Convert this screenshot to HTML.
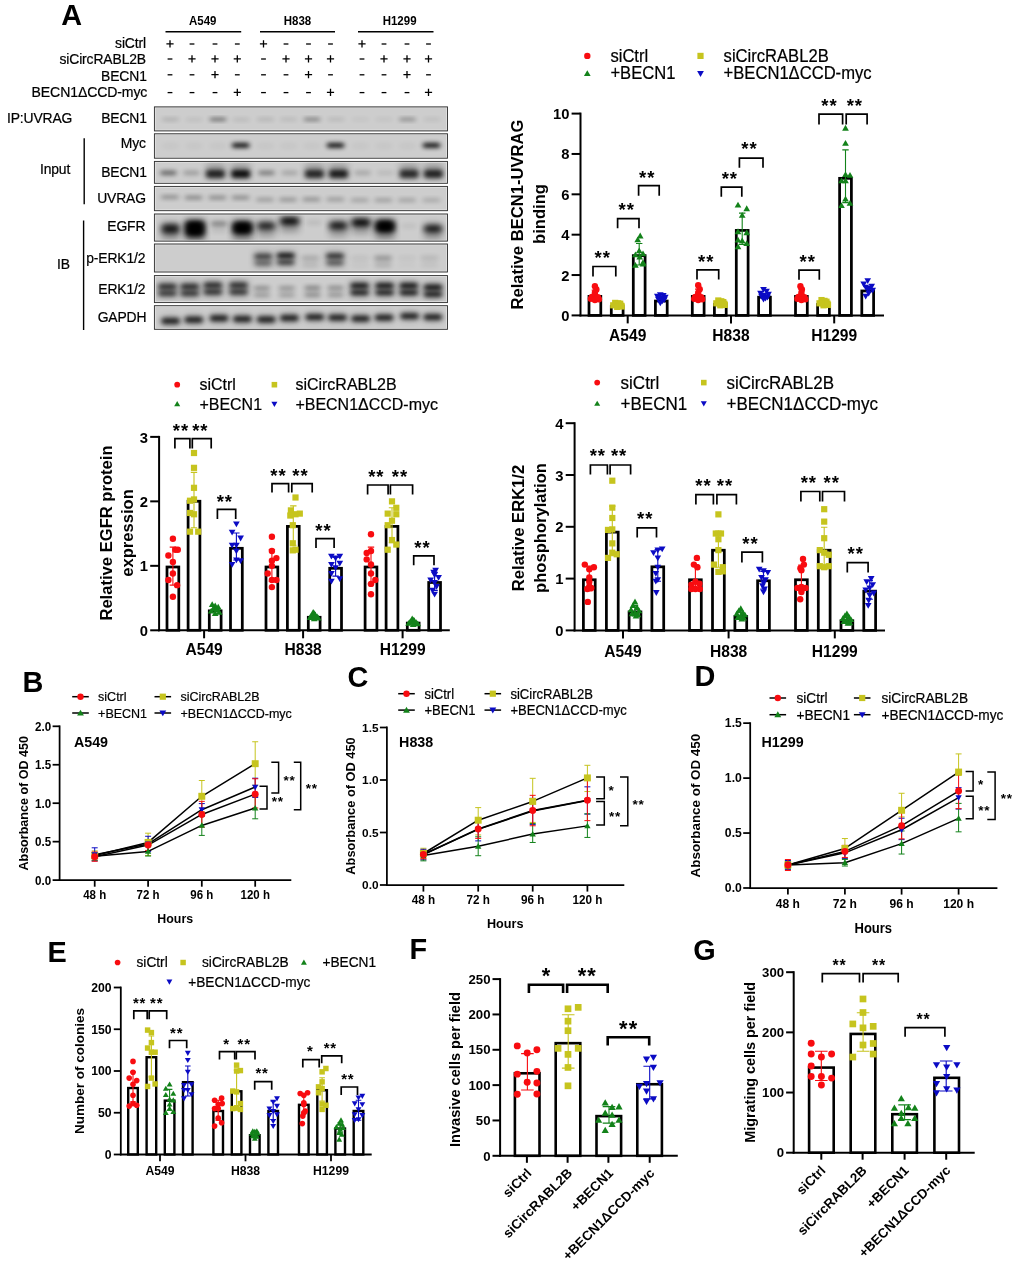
<!DOCTYPE html>
<html><head><meta charset="utf-8"><title>Figure</title>
<style>
html,body{margin:0;padding:0;background:#fff;}
svg{display:block;font-family:"Liberation Sans",sans-serif;will-change:transform;}
</style></head><body>
<svg width="1020" height="1266" viewBox="0 0 1020 1266">
<defs>
<filter id="b1" x="-30%" y="-80%" width="160%" height="260%"><feGaussianBlur stdDeviation="2.6 1.9"/></filter>
<filter id="b2" x="-30%" y="-80%" width="160%" height="260%"><feGaussianBlur stdDeviation="3.0 2.5"/></filter>
<filter id="b3" x="-30%" y="-80%" width="160%" height="260%"><feGaussianBlur stdDeviation="3.6 3.8"/></filter>
<clipPath id="cb0"><rect x="154.1" y="106.6" width="293.7" height="24.6"/></clipPath>
<clipPath id="cb1"><rect x="154.1" y="133.5" width="293.7" height="25"/></clipPath>
<clipPath id="cb2"><rect x="154.1" y="161.1" width="293.7" height="22.5"/></clipPath>
<clipPath id="cb3"><rect x="154.1" y="186.1" width="293.7" height="24.9"/></clipPath>
<clipPath id="cb4"><rect x="154.1" y="213.7" width="293.7" height="27.7"/></clipPath>
<clipPath id="cb5"><rect x="154.1" y="243.7" width="293.7" height="28.6"/></clipPath>
<clipPath id="cb6"><rect x="154.1" y="275.3" width="293.7" height="27.6"/></clipPath>
<clipPath id="cb7"><rect x="154.1" y="305.4" width="293.7" height="24.2"/></clipPath>
</defs>
<rect width="1020" height="1266" fill="#fff"/>
<text transform="translate(61.3 25) scale(0.95 1)" font-size="30.4" font-weight="bold">A</text>
<text transform="translate(202.7 25.2) scale(1 1.06)" font-size="11.5" text-anchor="middle" font-weight="bold">A549</text>
<line x1="165.5" y1="31.8" x2="241.2" y2="31.8" stroke="#000" stroke-width="1.45"/>
<text transform="translate(297.5 25.2) scale(1 1.06)" font-size="11.5" text-anchor="middle" font-weight="bold">H838</text>
<line x1="260" y1="31.8" x2="335" y2="31.8" stroke="#000" stroke-width="1.45"/>
<text transform="translate(399.6 25.2) scale(1 1.06)" font-size="11.5" text-anchor="middle" font-weight="bold">H1299</text>
<line x1="358" y1="31.8" x2="433.5" y2="31.8" stroke="#000" stroke-width="1.45"/>
<text transform="translate(146 47.6) scale(1 1.06)" font-size="13.9" text-anchor="end" stroke="#000" stroke-width="0.2" letter-spacing="-0.12">siCtrl</text>
<text transform="translate(146 63.8) scale(1 1.06)" font-size="13.9" text-anchor="end" stroke="#000" stroke-width="0.2" letter-spacing="-0.12">siCircRABL2B</text>
<text transform="translate(146.8 81) scale(1 1.06)" font-size="13.9" text-anchor="end" stroke="#000" stroke-width="0.2" letter-spacing="-0.12">BECN1</text>
<text transform="translate(147.2 96.6) scale(1 1.06)" font-size="13.9" text-anchor="end" stroke="#000" stroke-width="0.2" letter-spacing="-0.12" textLength="115.6" lengthAdjust="spacingAndGlyphs">BECN1ΔCCD-myc</text>
<path d="M166.4 43.8H173.6M170 40.2V47.4" fill="none" stroke="#000" stroke-width="1.3" stroke-linejoin="miter"/>
<line x1="189.6" y1="44" x2="194.4" y2="44" stroke="#000" stroke-width="1.3"/>
<line x1="212.6" y1="44" x2="217.4" y2="44" stroke="#000" stroke-width="1.3"/>
<line x1="234.9" y1="44" x2="239.7" y2="44" stroke="#000" stroke-width="1.3"/>
<path d="M259.9 43.8H267.1M263.5 40.2V47.4" fill="none" stroke="#000" stroke-width="1.3" stroke-linejoin="miter"/>
<line x1="283.6" y1="44" x2="288.4" y2="44" stroke="#000" stroke-width="1.3"/>
<line x1="306.1" y1="44" x2="310.9" y2="44" stroke="#000" stroke-width="1.3"/>
<line x1="328.1" y1="44" x2="332.9" y2="44" stroke="#000" stroke-width="1.3"/>
<path d="M358.4 43.8H365.6M362 40.2V47.4" fill="none" stroke="#000" stroke-width="1.3" stroke-linejoin="miter"/>
<line x1="381.6" y1="44" x2="386.4" y2="44" stroke="#000" stroke-width="1.3"/>
<line x1="404.6" y1="44" x2="409.4" y2="44" stroke="#000" stroke-width="1.3"/>
<line x1="426.1" y1="44" x2="430.9" y2="44" stroke="#000" stroke-width="1.3"/>
<line x1="167.6" y1="59" x2="172.4" y2="59" stroke="#000" stroke-width="1.3"/>
<path d="M188.4 58.8H195.6M192 55.2V62.4" fill="none" stroke="#000" stroke-width="1.3" stroke-linejoin="miter"/>
<path d="M211.4 58.8H218.6M215 55.2V62.4" fill="none" stroke="#000" stroke-width="1.3" stroke-linejoin="miter"/>
<path d="M233.7 58.8H240.9M237.3 55.2V62.4" fill="none" stroke="#000" stroke-width="1.3" stroke-linejoin="miter"/>
<line x1="261.1" y1="59" x2="265.9" y2="59" stroke="#000" stroke-width="1.3"/>
<path d="M282.4 58.8H289.6M286 55.2V62.4" fill="none" stroke="#000" stroke-width="1.3" stroke-linejoin="miter"/>
<path d="M304.9 58.8H312.1M308.5 55.2V62.4" fill="none" stroke="#000" stroke-width="1.3" stroke-linejoin="miter"/>
<path d="M326.9 58.8H334.1M330.5 55.2V62.4" fill="none" stroke="#000" stroke-width="1.3" stroke-linejoin="miter"/>
<line x1="359.6" y1="59" x2="364.4" y2="59" stroke="#000" stroke-width="1.3"/>
<path d="M380.4 58.8H387.6M384 55.2V62.4" fill="none" stroke="#000" stroke-width="1.3" stroke-linejoin="miter"/>
<path d="M403.4 58.8H410.6M407 55.2V62.4" fill="none" stroke="#000" stroke-width="1.3" stroke-linejoin="miter"/>
<path d="M424.9 58.8H432.1M428.5 55.2V62.4" fill="none" stroke="#000" stroke-width="1.3" stroke-linejoin="miter"/>
<line x1="167.6" y1="74.8" x2="172.4" y2="74.8" stroke="#000" stroke-width="1.3"/>
<line x1="189.6" y1="74.8" x2="194.4" y2="74.8" stroke="#000" stroke-width="1.3"/>
<path d="M211.4 74.6H218.6M215 71V78.2" fill="none" stroke="#000" stroke-width="1.3" stroke-linejoin="miter"/>
<line x1="234.9" y1="74.8" x2="239.7" y2="74.8" stroke="#000" stroke-width="1.3"/>
<line x1="261.1" y1="74.8" x2="265.9" y2="74.8" stroke="#000" stroke-width="1.3"/>
<line x1="283.6" y1="74.8" x2="288.4" y2="74.8" stroke="#000" stroke-width="1.3"/>
<path d="M304.9 74.6H312.1M308.5 71V78.2" fill="none" stroke="#000" stroke-width="1.3" stroke-linejoin="miter"/>
<line x1="328.1" y1="74.8" x2="332.9" y2="74.8" stroke="#000" stroke-width="1.3"/>
<line x1="359.6" y1="74.8" x2="364.4" y2="74.8" stroke="#000" stroke-width="1.3"/>
<line x1="381.6" y1="74.8" x2="386.4" y2="74.8" stroke="#000" stroke-width="1.3"/>
<path d="M403.4 74.6H410.6M407 71V78.2" fill="none" stroke="#000" stroke-width="1.3" stroke-linejoin="miter"/>
<line x1="426.1" y1="74.8" x2="430.9" y2="74.8" stroke="#000" stroke-width="1.3"/>
<line x1="167.6" y1="92.6" x2="172.4" y2="92.6" stroke="#000" stroke-width="1.3"/>
<line x1="189.6" y1="92.6" x2="194.4" y2="92.6" stroke="#000" stroke-width="1.3"/>
<line x1="212.6" y1="92.6" x2="217.4" y2="92.6" stroke="#000" stroke-width="1.3"/>
<path d="M233.7 92.4H240.9M237.3 88.8V96" fill="none" stroke="#000" stroke-width="1.3" stroke-linejoin="miter"/>
<line x1="261.1" y1="92.6" x2="265.9" y2="92.6" stroke="#000" stroke-width="1.3"/>
<line x1="283.6" y1="92.6" x2="288.4" y2="92.6" stroke="#000" stroke-width="1.3"/>
<line x1="306.1" y1="92.6" x2="310.9" y2="92.6" stroke="#000" stroke-width="1.3"/>
<path d="M326.9 92.4H334.1M330.5 88.8V96" fill="none" stroke="#000" stroke-width="1.3" stroke-linejoin="miter"/>
<line x1="359.6" y1="92.6" x2="364.4" y2="92.6" stroke="#000" stroke-width="1.3"/>
<line x1="381.6" y1="92.6" x2="386.4" y2="92.6" stroke="#000" stroke-width="1.3"/>
<line x1="404.6" y1="92.6" x2="409.4" y2="92.6" stroke="#000" stroke-width="1.3"/>
<path d="M424.9 92.4H432.1M428.5 88.8V96" fill="none" stroke="#000" stroke-width="1.3" stroke-linejoin="miter"/>
<text transform="translate(7 123.2) scale(1 1.06)" font-size="13.9" stroke="#000" stroke-width="0.2" letter-spacing="-0.15">IP:UVRAG</text>
<text transform="translate(146.8 123.2) scale(1 1.06)" font-size="13.9" text-anchor="end" stroke="#000" stroke-width="0.2" letter-spacing="-0.15">BECN1</text>
<text transform="translate(145.8 148.2) scale(1 1.06)" font-size="13.9" text-anchor="end" stroke="#000" stroke-width="0.2" letter-spacing="-0.15">Myc</text>
<text transform="translate(146.8 176.8) scale(1 1.06)" font-size="13.9" text-anchor="end" stroke="#000" stroke-width="0.2" letter-spacing="-0.15">BECN1</text>
<text transform="translate(145.8 203) scale(1 1.06)" font-size="13.9" text-anchor="end" stroke="#000" stroke-width="0.2" letter-spacing="-0.15">UVRAG</text>
<text transform="translate(145.3 230.6) scale(1 1.06)" font-size="13.9" text-anchor="end" stroke="#000" stroke-width="0.2" letter-spacing="-0.15">EGFR</text>
<text transform="translate(145.3 263.2) scale(1 1.06)" font-size="13.9" text-anchor="end" stroke="#000" stroke-width="0.2" letter-spacing="-0.15">p-ERK1/2</text>
<text transform="translate(145.3 293.8) scale(1 1.06)" font-size="13.9" text-anchor="end" stroke="#000" stroke-width="0.2" letter-spacing="-0.15">ERK1/2</text>
<text transform="translate(146.3 322) scale(1 1.06)" font-size="13.9" text-anchor="end" stroke="#000" stroke-width="0.2" letter-spacing="-0.15">GAPDH</text>
<text transform="translate(40 174.3) scale(1 1.06)" font-size="13.9" stroke="#000" stroke-width="0.2" letter-spacing="-0.15">Input</text>
<text transform="translate(57 269.3) scale(1 1.06)" font-size="13.9" stroke="#000" stroke-width="0.2" letter-spacing="-0.15">IB</text>
<line x1="84.2" y1="138.2" x2="84.2" y2="204.3" stroke="#000" stroke-width="1.4"/>
<line x1="83.6" y1="220.5" x2="83.6" y2="330" stroke="#000" stroke-width="1.4"/>
<rect x="154.1" y="106.6" width="293.7" height="24.6" fill="#cdcdcd"/>
<g clip-path="url(#cb0)">
<rect x="162.25" y="117.65" width="16.5" height="3.3" rx="1.65" fill="#000" opacity="0.16" filter="url(#b1)"/>
<rect x="185.95" y="117.95" width="16.5" height="3.3" rx="1.65" fill="#000" opacity="0.08" filter="url(#b1)"/>
<rect x="209.75" y="117.65" width="16.5" height="3.3" rx="1.65" fill="#000" opacity="0.5" filter="url(#b1)"/>
<rect x="232.95" y="117.95" width="16.5" height="3.3" rx="1.65" fill="#000" opacity="0.1" filter="url(#b1)"/>
<rect x="257.35" y="117.65" width="16.5" height="3.3" rx="1.65" fill="#000" opacity="0.13" filter="url(#b1)"/>
<rect x="280.35" y="117.65" width="16.5" height="3.3" rx="1.65" fill="#000" opacity="0.1" filter="url(#b1)"/>
<rect x="303.75" y="117.65" width="16.5" height="3.3" rx="1.65" fill="#000" opacity="0.41" filter="url(#b1)"/>
<rect x="327.75" y="117.65" width="16.5" height="3.3" rx="1.65" fill="#000" opacity="0.11" filter="url(#b1)"/>
<rect x="352.05" y="117.65" width="16.5" height="3.3" rx="1.65" fill="#000" opacity="0.05" filter="url(#b1)"/>
<rect x="375.75" y="117.65" width="16.5" height="3.3" rx="1.65" fill="#000" opacity="0.06" filter="url(#b1)"/>
<rect x="399.25" y="117.65" width="16.5" height="3.3" rx="1.65" fill="#000" opacity="0.34" filter="url(#b1)"/>
<rect x="423.75" y="117.65" width="16.5" height="3.3" rx="1.65" fill="#000" opacity="0.08" filter="url(#b1)"/>
</g>
<rect x="155.2" y="107.7" width="291.5" height="22.4" fill="none" stroke="#e6e6e6" stroke-width="0.8"/>
<rect x="154.4" y="106.9" width="293.1" height="24" fill="none" stroke="#2e2e2e" stroke-width="0.9"/>
<rect x="154.1" y="133.5" width="293.7" height="25" fill="#cdcdcd"/>
<g clip-path="url(#cb1)">
<rect x="231.95" y="142.7" width="17.5" height="5.4" rx="2.5" fill="#000" opacity="0.86" filter="url(#b1)"/>
<rect x="326.75" y="142.7" width="17.5" height="5.4" rx="2.5" fill="#000" opacity="0.86" filter="url(#b1)"/>
<rect x="422.75" y="142.7" width="17.5" height="5.4" rx="2.5" fill="#000" opacity="0.86" filter="url(#b1)"/>
<rect x="162.5" y="143.5" width="16" height="5" rx="2.5" fill="#000" opacity="0.04" filter="url(#b2)"/>
<rect x="186.2" y="143.5" width="16" height="5" rx="2.5" fill="#000" opacity="0.04" filter="url(#b2)"/>
<rect x="210" y="143.5" width="16" height="5" rx="2.5" fill="#000" opacity="0.04" filter="url(#b2)"/>
<rect x="257.6" y="143.5" width="16" height="5" rx="2.5" fill="#000" opacity="0.04" filter="url(#b2)"/>
<rect x="280.6" y="143.5" width="16" height="5" rx="2.5" fill="#000" opacity="0.04" filter="url(#b2)"/>
<rect x="304" y="143.5" width="16" height="5" rx="2.5" fill="#000" opacity="0.04" filter="url(#b2)"/>
<rect x="352.3" y="143.5" width="16" height="5" rx="2.5" fill="#000" opacity="0.04" filter="url(#b2)"/>
<rect x="376" y="143.5" width="16" height="5" rx="2.5" fill="#000" opacity="0.04" filter="url(#b2)"/>
<rect x="399.5" y="143.5" width="16" height="5" rx="2.5" fill="#000" opacity="0.04" filter="url(#b2)"/>
</g>
<rect x="155.2" y="134.6" width="291.5" height="22.8" fill="none" stroke="#e6e6e6" stroke-width="0.8"/>
<rect x="154.4" y="133.8" width="293.1" height="24.4" fill="none" stroke="#2e2e2e" stroke-width="0.9"/>
<rect x="154.1" y="161.1" width="293.7" height="22.5" fill="#cdcdcd"/>
<g clip-path="url(#cb2)">
<rect x="160.15" y="170.4" width="16.5" height="4.8" rx="2.4" fill="#000" opacity="0.49" filter="url(#b1)"/>
<rect x="183.15" y="170.4" width="16.5" height="4.8" rx="2.4" fill="#000" opacity="0.23" filter="url(#b1)"/>
<rect x="206.1" y="169.7" width="18.6" height="8.2" rx="2.5" fill="#000" opacity="0.78" filter="url(#b1)"/>
<rect x="205.9" y="163" width="19" height="16" rx="2.5" fill="#000" opacity="0.22" filter="url(#b3)"/>
<rect x="231.4" y="169.7" width="18.6" height="8.2" rx="2.5" fill="#000" opacity="0.9" filter="url(#b1)"/>
<rect x="231.2" y="163" width="19" height="16" rx="2.5" fill="#000" opacity="0.22" filter="url(#b3)"/>
<rect x="258.25" y="170.4" width="16.5" height="4.8" rx="2.4" fill="#000" opacity="0.38" filter="url(#b1)"/>
<rect x="281.45" y="170.4" width="16.5" height="4.8" rx="2.4" fill="#000" opacity="0.19" filter="url(#b1)"/>
<rect x="305.1" y="169.7" width="18.6" height="8.2" rx="2.5" fill="#000" opacity="0.76" filter="url(#b1)"/>
<rect x="304.9" y="163" width="19" height="16" rx="2.5" fill="#000" opacity="0.22" filter="url(#b3)"/>
<rect x="329.2" y="169.7" width="18.6" height="8.2" rx="2.5" fill="#000" opacity="0.82" filter="url(#b1)"/>
<rect x="329" y="163" width="19" height="16" rx="2.5" fill="#000" opacity="0.22" filter="url(#b3)"/>
<rect x="354.25" y="170.4" width="16.5" height="4.8" rx="2.4" fill="#000" opacity="0.18" filter="url(#b1)"/>
<rect x="377.05" y="170.4" width="16.5" height="4.8" rx="2.4" fill="#000" opacity="0.09" filter="url(#b1)"/>
<rect x="399.8" y="169.7" width="18.6" height="8.2" rx="2.5" fill="#000" opacity="0.74" filter="url(#b1)"/>
<rect x="399.6" y="163" width="19" height="16" rx="2.5" fill="#000" opacity="0.22" filter="url(#b3)"/>
<rect x="424.1" y="169.7" width="18.6" height="8.2" rx="2.5" fill="#000" opacity="0.78" filter="url(#b1)"/>
<rect x="423.9" y="163" width="19" height="16" rx="2.5" fill="#000" opacity="0.22" filter="url(#b3)"/>
</g>
<rect x="155.2" y="162.2" width="291.5" height="20.3" fill="none" stroke="#e6e6e6" stroke-width="0.8"/>
<rect x="154.4" y="161.4" width="293.1" height="21.9" fill="none" stroke="#2e2e2e" stroke-width="0.9"/>
<rect x="154.1" y="186.1" width="293.7" height="24.9" fill="#cdcdcd"/>
<g clip-path="url(#cb3)">
<rect x="161.15" y="195.3" width="17.5" height="3.8" rx="1.9" fill="#000" opacity="0.32" filter="url(#b1)"/>
<rect x="184.85" y="195.7" width="17.5" height="3.8" rx="1.9" fill="#000" opacity="0.36" filter="url(#b1)"/>
<rect x="208.65" y="195.7" width="17.5" height="3.8" rx="1.9" fill="#000" opacity="0.34" filter="url(#b1)"/>
<rect x="231.85" y="195.7" width="17.5" height="3.8" rx="1.9" fill="#000" opacity="0.34" filter="url(#b1)"/>
<rect x="256.25" y="197.7" width="17.5" height="3.8" rx="1.9" fill="#000" opacity="0.26" filter="url(#b1)"/>
<rect x="279.25" y="197.7" width="17.5" height="3.8" rx="1.9" fill="#000" opacity="0.29" filter="url(#b1)"/>
<rect x="302.65" y="197.5" width="17.5" height="3.8" rx="1.9" fill="#000" opacity="0.31" filter="url(#b1)"/>
<rect x="326.65" y="197.5" width="17.5" height="3.8" rx="1.9" fill="#000" opacity="0.26" filter="url(#b1)"/>
<rect x="350.95" y="198.3" width="17.5" height="3.8" rx="1.9" fill="#000" opacity="0.22" filter="url(#b1)"/>
<rect x="374.65" y="198.3" width="17.5" height="3.8" rx="1.9" fill="#000" opacity="0.24" filter="url(#b1)"/>
<rect x="398.15" y="198.3" width="17.5" height="3.8" rx="1.9" fill="#000" opacity="0.22" filter="url(#b1)"/>
<rect x="422.65" y="198.3" width="17.5" height="3.8" rx="1.9" fill="#000" opacity="0.19" filter="url(#b1)"/>
</g>
<rect x="155.2" y="187.2" width="291.5" height="22.7" fill="none" stroke="#e6e6e6" stroke-width="0.8"/>
<rect x="154.4" y="186.4" width="293.1" height="24.3" fill="none" stroke="#2e2e2e" stroke-width="0.9"/>
<rect x="154.1" y="213.7" width="293.7" height="27.7" fill="#cdcdcd"/>
<g clip-path="url(#cb4)">
<rect x="161.6" y="222.3" width="18" height="18" rx="2.5" fill="#000" opacity="0.3" filter="url(#b3)"/>
<rect x="162.1" y="224.2" width="17" height="9.2" rx="2.5" fill="#000" opacity="0.81" filter="url(#b2)"/>
<rect x="185.15" y="219.1" width="19.5" height="24" rx="2.5" fill="#000" opacity="0.42" filter="url(#b3)"/>
<rect x="185.65" y="221" width="18.5" height="15.2" rx="2.5" fill="#000" opacity="1" filter="url(#b2)"/>
<rect x="187.15" y="223.6" width="15.5" height="10" rx="2.5" fill="#000" opacity="0.8" filter="url(#b2)"/>
<rect x="211" y="220.9" width="16" height="5.6" rx="2.5" fill="#000" opacity="0.33" filter="url(#b1)"/>
<rect x="211" y="228.2" width="16" height="4" rx="2" fill="#000" opacity="0.1" filter="url(#b2)"/>
<rect x="232.65" y="219.8" width="19.5" height="21" rx="2.5" fill="#000" opacity="0.42" filter="url(#b3)"/>
<rect x="233.15" y="221.7" width="18.5" height="12.2" rx="2.5" fill="#000" opacity="1" filter="url(#b2)"/>
<rect x="234.65" y="224.3" width="15.5" height="7" rx="2.5" fill="#000" opacity="0.8" filter="url(#b2)"/>
<rect x="257.2" y="220.3" width="18" height="16" rx="2.5" fill="#000" opacity="0.3" filter="url(#b3)"/>
<rect x="257.7" y="222.2" width="17" height="7.2" rx="2.5" fill="#000" opacity="0.73" filter="url(#b2)"/>
<rect x="280.2" y="215.4" width="19" height="16.6" rx="2.5" fill="#000" opacity="0.3" filter="url(#b3)"/>
<rect x="280.7" y="217.3" width="18" height="7.8" rx="2.5" fill="#000" opacity="0.88" filter="url(#b2)"/>
<rect x="306.5" y="220" width="15" height="5.2" rx="2.5" fill="#000" opacity="0.08" filter="url(#b1)"/>
<rect x="329.2" y="219.9" width="18" height="16.4" rx="2.5" fill="#000" opacity="0.3" filter="url(#b3)"/>
<rect x="329.7" y="221.8" width="17" height="7.6" rx="2.5" fill="#000" opacity="0.79" filter="url(#b2)"/>
<rect x="351.5" y="216.8" width="19" height="16.6" rx="2.5" fill="#000" opacity="0.3" filter="url(#b3)"/>
<rect x="352" y="218.7" width="18" height="7.8" rx="2.5" fill="#000" opacity="0.9" filter="url(#b2)"/>
<rect x="375.4" y="218.5" width="19.2" height="20.6" rx="2.5" fill="#000" opacity="0.42" filter="url(#b3)"/>
<rect x="375.9" y="220.4" width="18.2" height="11.8" rx="2.5" fill="#000" opacity="1" filter="url(#b2)"/>
<rect x="377.4" y="223" width="15.2" height="6.6" rx="2.5" fill="#000" opacity="0.8" filter="url(#b2)"/>
<rect x="401.3" y="223.4" width="15" height="5.2" rx="2.5" fill="#000" opacity="0.06" filter="url(#b1)"/>
<rect x="424" y="223.1" width="18" height="16.4" rx="2.5" fill="#000" opacity="0.3" filter="url(#b3)"/>
<rect x="424.5" y="225" width="17" height="7.6" rx="2.5" fill="#000" opacity="0.79" filter="url(#b2)"/>
</g>
<rect x="155.2" y="214.8" width="291.5" height="25.5" fill="none" stroke="#e6e6e6" stroke-width="0.8"/>
<rect x="154.4" y="214" width="293.1" height="27.1" fill="none" stroke="#2e2e2e" stroke-width="0.9"/>
<rect x="154.1" y="243.7" width="293.7" height="28.6" fill="#cdcdcd"/>
<g clip-path="url(#cb5)">
<rect x="254.45" y="253.7" width="17.5" height="5.2" rx="2.5" fill="#000" opacity="0.62" filter="url(#b1)"/>
<rect x="254.7" y="260.7" width="17" height="4.8" rx="2.4" fill="#000" opacity="0.43" filter="url(#b1)"/>
<rect x="253.7" y="251.3" width="19" height="16" rx="2.5" fill="#000" opacity="0.2" filter="url(#b3)"/>
<rect x="276.95" y="253" width="17.5" height="5.2" rx="2.5" fill="#000" opacity="0.89" filter="url(#b1)"/>
<rect x="277.2" y="260" width="17" height="4.8" rx="2.4" fill="#000" opacity="0.66" filter="url(#b1)"/>
<rect x="276.2" y="250.6" width="19" height="16" rx="2.5" fill="#000" opacity="0.2" filter="url(#b3)"/>
<rect x="301.55" y="255.6" width="17.5" height="5.2" rx="2.5" fill="#000" opacity="0.17" filter="url(#b1)"/>
<rect x="301.8" y="262.6" width="17" height="4.8" rx="2.4" fill="#000" opacity="0.11" filter="url(#b1)"/>
<rect x="326.25" y="253.4" width="17.5" height="5.2" rx="2.5" fill="#000" opacity="0.74" filter="url(#b1)"/>
<rect x="326.5" y="260.4" width="17" height="4.8" rx="2.4" fill="#000" opacity="0.5" filter="url(#b1)"/>
<rect x="325.5" y="251" width="19" height="16" rx="2.5" fill="#000" opacity="0.2" filter="url(#b3)"/>
<rect x="351.25" y="255.6" width="17.5" height="5.2" rx="2.5" fill="#000" opacity="0.06" filter="url(#b1)"/>
<rect x="351.5" y="262.6" width="17" height="4.8" rx="2.4" fill="#000" opacity="0.04" filter="url(#b1)"/>
<rect x="374.25" y="255.6" width="17.5" height="5.2" rx="2.5" fill="#000" opacity="0.26" filter="url(#b1)"/>
<rect x="374.5" y="262.6" width="17" height="4.8" rx="2.4" fill="#000" opacity="0.14" filter="url(#b1)"/>
<rect x="398.25" y="255.6" width="17.5" height="5.2" rx="2.5" fill="#000" opacity="0.04" filter="url(#b1)"/>
<rect x="398.5" y="262.6" width="17" height="4.8" rx="2.4" fill="#000" opacity="0.02" filter="url(#b1)"/>
<rect x="420.75" y="255.4" width="17.5" height="5.2" rx="2.5" fill="#000" opacity="0.1" filter="url(#b1)"/>
<rect x="421" y="262.4" width="17" height="4.8" rx="2.4" fill="#000" opacity="0.06" filter="url(#b1)"/>
</g>
<rect x="155.2" y="244.8" width="291.5" height="26.4" fill="none" stroke="#e6e6e6" stroke-width="0.8"/>
<rect x="154.4" y="244" width="293.1" height="28" fill="none" stroke="#2e2e2e" stroke-width="0.9"/>
<rect x="154.1" y="275.3" width="293.7" height="27.6" fill="#cdcdcd"/>
<g clip-path="url(#cb6)">
<rect x="158.4" y="283.8" width="18" height="5.6" rx="2.5" fill="#000" opacity="0.69" filter="url(#b1)"/>
<rect x="158.4" y="290.7" width="18" height="5.4" rx="2.5" fill="#000" opacity="0.64" filter="url(#b1)"/>
<rect x="157.65" y="281.9" width="19.5" height="16" rx="2.5" fill="#000" opacity="0.25" filter="url(#b3)"/>
<rect x="180.8" y="283.8" width="18" height="5.6" rx="2.5" fill="#000" opacity="0.71" filter="url(#b1)"/>
<rect x="180.8" y="290.7" width="18" height="5.4" rx="2.5" fill="#000" opacity="0.66" filter="url(#b1)"/>
<rect x="180.05" y="281.9" width="19.5" height="16" rx="2.5" fill="#000" opacity="0.25" filter="url(#b3)"/>
<rect x="203.9" y="282.4" width="18" height="5.6" rx="2.5" fill="#000" opacity="0.73" filter="url(#b1)"/>
<rect x="203.9" y="289.3" width="18" height="5.4" rx="2.5" fill="#000" opacity="0.68" filter="url(#b1)"/>
<rect x="203.15" y="280.5" width="19.5" height="16" rx="2.5" fill="#000" opacity="0.25" filter="url(#b3)"/>
<rect x="229.5" y="282.4" width="18" height="5.6" rx="2.5" fill="#000" opacity="0.71" filter="url(#b1)"/>
<rect x="229.5" y="289.3" width="18" height="5.4" rx="2.5" fill="#000" opacity="0.66" filter="url(#b1)"/>
<rect x="228.75" y="280.5" width="19.5" height="16" rx="2.5" fill="#000" opacity="0.25" filter="url(#b3)"/>
<rect x="253.8" y="286" width="16" height="4.4" rx="2.2" fill="#000" opacity="0.31" filter="url(#b1)"/>
<rect x="253.8" y="292.9" width="16" height="4.2" rx="2.1" fill="#000" opacity="0.28" filter="url(#b1)"/>
<rect x="278.8" y="286" width="16" height="4.4" rx="2.2" fill="#000" opacity="0.28" filter="url(#b1)"/>
<rect x="278.8" y="292.9" width="16" height="4.2" rx="2.1" fill="#000" opacity="0.25" filter="url(#b1)"/>
<rect x="304.5" y="285.8" width="16" height="4.4" rx="2.2" fill="#000" opacity="0.36" filter="url(#b1)"/>
<rect x="304.5" y="292.7" width="16" height="4.2" rx="2.1" fill="#000" opacity="0.33" filter="url(#b1)"/>
<rect x="327.6" y="285.8" width="16" height="4.4" rx="2.2" fill="#000" opacity="0.31" filter="url(#b1)"/>
<rect x="327.6" y="292.7" width="16" height="4.2" rx="2.1" fill="#000" opacity="0.28" filter="url(#b1)"/>
<rect x="350.6" y="283" width="18" height="5.6" rx="2.5" fill="#000" opacity="0.84" filter="url(#b1)"/>
<rect x="350.6" y="289.9" width="18" height="5.4" rx="2.5" fill="#000" opacity="0.79" filter="url(#b1)"/>
<rect x="349.85" y="281.1" width="19.5" height="16" rx="2.5" fill="#000" opacity="0.25" filter="url(#b3)"/>
<rect x="375.6" y="283" width="18" height="5.6" rx="2.5" fill="#000" opacity="0.84" filter="url(#b1)"/>
<rect x="375.6" y="289.9" width="18" height="5.4" rx="2.5" fill="#000" opacity="0.79" filter="url(#b1)"/>
<rect x="374.85" y="281.1" width="19.5" height="16" rx="2.5" fill="#000" opacity="0.25" filter="url(#b3)"/>
<rect x="399.8" y="283" width="18" height="5.6" rx="2.5" fill="#000" opacity="0.86" filter="url(#b1)"/>
<rect x="399.8" y="289.9" width="18" height="5.4" rx="2.5" fill="#000" opacity="0.81" filter="url(#b1)"/>
<rect x="399.05" y="281.1" width="19.5" height="16" rx="2.5" fill="#000" opacity="0.25" filter="url(#b3)"/>
<rect x="424" y="284.6" width="18" height="5.6" rx="2.5" fill="#000" opacity="0.84" filter="url(#b1)"/>
<rect x="424" y="291.5" width="18" height="5.4" rx="2.5" fill="#000" opacity="0.79" filter="url(#b1)"/>
<rect x="423.25" y="282.7" width="19.5" height="16" rx="2.5" fill="#000" opacity="0.25" filter="url(#b3)"/>
</g>
<rect x="155.2" y="276.4" width="291.5" height="25.4" fill="none" stroke="#e6e6e6" stroke-width="0.8"/>
<rect x="154.4" y="275.6" width="293.1" height="27" fill="none" stroke="#2e2e2e" stroke-width="0.9"/>
<rect x="154.1" y="305.4" width="293.7" height="24.2" fill="#cdcdcd"/>
<g clip-path="url(#cb7)">
<rect x="161.6" y="317.8" width="18" height="6.4" rx="2.5" fill="#000" opacity="0.79" filter="url(#b1)"/>
<rect x="161.1" y="315.5" width="19" height="11" rx="2.5" fill="#000" opacity="0.16" filter="url(#b3)"/>
<rect x="184.8" y="316.6" width="18" height="6.4" rx="2.5" fill="#000" opacity="0.79" filter="url(#b1)"/>
<rect x="184.3" y="314.3" width="19" height="11" rx="2.5" fill="#000" opacity="0.16" filter="url(#b3)"/>
<rect x="210" y="315.1" width="18" height="6.4" rx="2.5" fill="#000" opacity="0.79" filter="url(#b1)"/>
<rect x="209.5" y="312.8" width="19" height="11" rx="2.5" fill="#000" opacity="0.16" filter="url(#b3)"/>
<rect x="233.4" y="315.8" width="18" height="6.4" rx="2.5" fill="#000" opacity="0.79" filter="url(#b1)"/>
<rect x="232.9" y="313.5" width="19" height="11" rx="2.5" fill="#000" opacity="0.16" filter="url(#b3)"/>
<rect x="257.2" y="316.3" width="18" height="6.4" rx="2.5" fill="#000" opacity="0.79" filter="url(#b1)"/>
<rect x="256.7" y="314" width="19" height="11" rx="2.5" fill="#000" opacity="0.16" filter="url(#b3)"/>
<rect x="280.4" y="314.8" width="18" height="6.4" rx="2.5" fill="#000" opacity="0.79" filter="url(#b1)"/>
<rect x="279.9" y="312.5" width="19" height="11" rx="2.5" fill="#000" opacity="0.16" filter="url(#b3)"/>
<rect x="305.7" y="313.9" width="18" height="6.4" rx="2.5" fill="#000" opacity="0.79" filter="url(#b1)"/>
<rect x="305.2" y="311.6" width="19" height="11" rx="2.5" fill="#000" opacity="0.16" filter="url(#b3)"/>
<rect x="328.5" y="314.4" width="18" height="6.4" rx="2.5" fill="#000" opacity="0.79" filter="url(#b1)"/>
<rect x="328" y="312.1" width="19" height="11" rx="2.5" fill="#000" opacity="0.16" filter="url(#b3)"/>
<rect x="351.6" y="315.4" width="18" height="6.4" rx="2.5" fill="#000" opacity="0.79" filter="url(#b1)"/>
<rect x="351.1" y="313.1" width="19" height="11" rx="2.5" fill="#000" opacity="0.16" filter="url(#b3)"/>
<rect x="375.1" y="314.4" width="18" height="6.4" rx="2.5" fill="#000" opacity="0.79" filter="url(#b1)"/>
<rect x="374.6" y="312.1" width="19" height="11" rx="2.5" fill="#000" opacity="0.16" filter="url(#b3)"/>
<rect x="400.6" y="312.9" width="18" height="6.4" rx="2.5" fill="#000" opacity="0.79" filter="url(#b1)"/>
<rect x="400.1" y="310.6" width="19" height="11" rx="2.5" fill="#000" opacity="0.16" filter="url(#b3)"/>
<rect x="423.8" y="313.9" width="18" height="6.4" rx="2.5" fill="#000" opacity="0.79" filter="url(#b1)"/>
<rect x="423.3" y="311.6" width="19" height="11" rx="2.5" fill="#000" opacity="0.16" filter="url(#b3)"/>
</g>
<rect x="155.2" y="306.5" width="291.5" height="22" fill="none" stroke="#e6e6e6" stroke-width="0.8"/>
<rect x="154.4" y="305.7" width="293.1" height="23.6" fill="none" stroke="#2e2e2e" stroke-width="0.9"/>
<rect x="589" y="296.39" width="11.8" height="19.01" fill="#fff" stroke="#000" stroke-width="2.75"/>
<rect x="611.3" y="306.49" width="11.8" height="8.91" fill="#fff" stroke="#000" stroke-width="2.75"/>
<rect x="633.3" y="255.63" width="11.8" height="59.77" fill="#fff" stroke="#000" stroke-width="2.75"/>
<rect x="655.4" y="301.04" width="11.8" height="14.36" fill="#fff" stroke="#000" stroke-width="2.75"/>
<rect x="692.3" y="296.39" width="11.8" height="19.01" fill="#fff" stroke="#000" stroke-width="2.75"/>
<rect x="714.4" y="304.47" width="11.8" height="10.93" fill="#fff" stroke="#000" stroke-width="2.75"/>
<rect x="736.3" y="230.41" width="11.8" height="84.99" fill="#fff" stroke="#000" stroke-width="2.75"/>
<rect x="758.6" y="297.2" width="11.8" height="18.2" fill="#fff" stroke="#000" stroke-width="2.75"/>
<rect x="795.5" y="296.39" width="11.8" height="19.01" fill="#fff" stroke="#000" stroke-width="2.75"/>
<rect x="817.6" y="304.47" width="11.8" height="10.93" fill="#fff" stroke="#000" stroke-width="2.75"/>
<rect x="839.6" y="178.34" width="11.8" height="137.06" fill="#fff" stroke="#000" stroke-width="2.75"/>
<rect x="861.8" y="290.95" width="11.8" height="24.45" fill="#fff" stroke="#000" stroke-width="2.75"/>
<line x1="580.5" y1="112.6" x2="580.5" y2="316.4" stroke="#000" stroke-width="2"/>
<line x1="579.5" y1="315.4" x2="884" y2="315.4" stroke="#000" stroke-width="2"/>
<line x1="571.6" y1="315.4" x2="580.5" y2="315.4" stroke="#000" stroke-width="2"/>
<text transform="translate(569.4 320.92) scale(1 1.05)" font-size="14.8" text-anchor="end" font-weight="bold">0</text>
<line x1="571.6" y1="275.04" x2="580.5" y2="275.04" stroke="#000" stroke-width="2"/>
<text transform="translate(569.4 280.56) scale(1 1.05)" font-size="14.8" text-anchor="end" font-weight="bold">2</text>
<line x1="571.6" y1="234.68" x2="580.5" y2="234.68" stroke="#000" stroke-width="2"/>
<text transform="translate(569.4 240.2) scale(1 1.05)" font-size="14.8" text-anchor="end" font-weight="bold">4</text>
<line x1="571.6" y1="194.32" x2="580.5" y2="194.32" stroke="#000" stroke-width="2"/>
<text transform="translate(569.4 199.84) scale(1 1.05)" font-size="14.8" text-anchor="end" font-weight="bold">6</text>
<line x1="571.6" y1="153.96" x2="580.5" y2="153.96" stroke="#000" stroke-width="2"/>
<text transform="translate(569.4 159.48) scale(1 1.05)" font-size="14.8" text-anchor="end" font-weight="bold">8</text>
<line x1="571.6" y1="113.6" x2="580.5" y2="113.6" stroke="#000" stroke-width="2"/>
<text transform="translate(569.4 119.12) scale(1 1.05)" font-size="14.8" text-anchor="end" font-weight="bold">10</text>
<line x1="627.7" y1="315.4" x2="627.7" y2="323.4" stroke="#000" stroke-width="2"/>
<text transform="translate(627.7 341.2) scale(1 1.06)" font-size="15.6" text-anchor="middle" font-weight="bold">A549</text>
<line x1="731" y1="315.4" x2="731" y2="323.4" stroke="#000" stroke-width="2"/>
<text transform="translate(731 341.2) scale(1 1.06)" font-size="15.6" text-anchor="middle" font-weight="bold">H838</text>
<line x1="834.2" y1="315.4" x2="834.2" y2="323.4" stroke="#000" stroke-width="2"/>
<text transform="translate(834.2 341.2) scale(1 1.06)" font-size="15.6" text-anchor="middle" font-weight="bold">H1299</text>
<text transform="translate(523.2 214.6) rotate(-90)" font-size="16.6" text-anchor="middle" font-weight="bold">Relative BECN1-UVRAG</text>
<text transform="translate(544.6 214) rotate(-90)" font-size="16.6" text-anchor="middle" font-weight="bold">binding</text>
<path d="M591.7 290.17H598.1M594.9 290.17V299.66M591.7 299.66H598.1" fill="none" stroke="#f80c10" stroke-width="1.1" stroke-linejoin="miter"/>
<circle cx="594.9" cy="286.14" r="3.2" fill="#f80c10"/>
<circle cx="596.4" cy="289.57" r="3.2" fill="#f80c10"/>
<circle cx="594.9" cy="292.8" r="3.2" fill="#f80c10"/>
<circle cx="594.9" cy="295.22" r="3.2" fill="#f80c10"/>
<circle cx="591.9" cy="296.83" r="3.2" fill="#f80c10"/>
<circle cx="590.9" cy="298.85" r="3.2" fill="#f80c10"/>
<circle cx="598.9" cy="299.26" r="3.2" fill="#f80c10"/>
<circle cx="594.9" cy="300.06" r="3.2" fill="#f80c10"/>
<circle cx="597.9" cy="297.24" r="3.2" fill="#f80c10"/>
<rect x="612.1" y="299.79" width="6.2" height="6.2" fill="#c6c41e"/>
<rect x="615.1" y="300.19" width="6.2" height="6.2" fill="#c6c41e"/>
<rect x="617.1" y="300.6" width="6.2" height="6.2" fill="#c6c41e"/>
<rect x="610.1" y="302.21" width="6.2" height="6.2" fill="#c6c41e"/>
<rect x="618.1" y="302.61" width="6.2" height="6.2" fill="#c6c41e"/>
<rect x="613.1" y="301.81" width="6.2" height="6.2" fill="#c6c41e"/>
<rect x="616.1" y="302.21" width="6.2" height="6.2" fill="#c6c41e"/>
<rect x="614.1" y="303.82" width="6.2" height="6.2" fill="#c6c41e"/>
<rect x="618.6" y="303.42" width="6.2" height="6.2" fill="#c6c41e"/>
<path d="M636 243.56H642.4M639.2 243.56V264.95M636 264.95H642.4" fill="none" stroke="#13821a" stroke-width="1.1" stroke-linejoin="miter"/>
<path d="M640.2 232.59L643.55 238.39L636.85 238.39Z" fill="#13821a"/>
<path d="M637.7 236.42L641.05 242.22L634.35 242.22Z" fill="#13821a"/>
<path d="M639.2 247.52L642.55 253.32L635.85 253.32Z" fill="#13821a"/>
<path d="M643 250.55L646.35 256.35L639.65 256.35Z" fill="#13821a"/>
<path d="M635.4 251.56L638.75 257.36L632.05 257.36Z" fill="#13821a"/>
<path d="M639.7 253.58L643.05 259.38L636.35 259.38Z" fill="#13821a"/>
<path d="M643 259.23L646.35 265.03L639.65 265.03Z" fill="#13821a"/>
<path d="M635.4 262.05L638.75 267.85L632.05 267.85Z" fill="#13821a"/>
<path d="M643 260.64L646.35 266.44L639.65 266.44Z" fill="#13821a"/>
<path d="M660.3 298.12L663.65 292.32L656.95 292.32Z" fill="#0b0bc4"/>
<path d="M663.3 298.92L666.65 293.12L659.95 293.12Z" fill="#0b0bc4"/>
<path d="M657.3 299.53L660.65 293.73L653.95 293.73Z" fill="#0b0bc4"/>
<path d="M665.3 300.54L668.65 294.74L661.95 294.74Z" fill="#0b0bc4"/>
<path d="M661.3 301.35L664.65 295.55L657.95 295.55Z" fill="#0b0bc4"/>
<path d="M658.3 302.56L661.65 296.76L654.95 296.76Z" fill="#0b0bc4"/>
<path d="M664.3 302.96L667.65 297.16L660.95 297.16Z" fill="#0b0bc4"/>
<path d="M662.3 304.17L665.65 298.37L658.95 298.37Z" fill="#0b0bc4"/>
<path d="M660.3 306.19L663.65 300.39L656.95 300.39Z" fill="#0b0bc4"/>
<path d="M695 289.17H701.4M698.2 289.17V300.26M695 300.26H701.4" fill="none" stroke="#f80c10" stroke-width="1.1" stroke-linejoin="miter"/>
<circle cx="698.2" cy="285.13" r="3.2" fill="#f80c10"/>
<circle cx="699.7" cy="289.17" r="3.2" fill="#f80c10"/>
<circle cx="698.2" cy="292.8" r="3.2" fill="#f80c10"/>
<circle cx="698.2" cy="295.22" r="3.2" fill="#f80c10"/>
<circle cx="695.2" cy="296.83" r="3.2" fill="#f80c10"/>
<circle cx="694.2" cy="298.85" r="3.2" fill="#f80c10"/>
<circle cx="702.2" cy="299.26" r="3.2" fill="#f80c10"/>
<circle cx="698.2" cy="300.06" r="3.2" fill="#f80c10"/>
<circle cx="701.2" cy="297.24" r="3.2" fill="#f80c10"/>
<rect x="715.2" y="297.37" width="6.2" height="6.2" fill="#c6c41e"/>
<rect x="718.2" y="298.17" width="6.2" height="6.2" fill="#c6c41e"/>
<rect x="720.2" y="298.98" width="6.2" height="6.2" fill="#c6c41e"/>
<rect x="713.2" y="300.19" width="6.2" height="6.2" fill="#c6c41e"/>
<rect x="721.2" y="300.6" width="6.2" height="6.2" fill="#c6c41e"/>
<rect x="716.2" y="300.19" width="6.2" height="6.2" fill="#c6c41e"/>
<rect x="719.2" y="301" width="6.2" height="6.2" fill="#c6c41e"/>
<rect x="717.2" y="302.21" width="6.2" height="6.2" fill="#c6c41e"/>
<rect x="721.7" y="301.81" width="6.2" height="6.2" fill="#c6c41e"/>
<path d="M739 213.09H745.4M742.2 213.09V244.37M739 244.37H745.4" fill="none" stroke="#13821a" stroke-width="1.1" stroke-linejoin="miter"/>
<path d="M738 201.72L741.35 207.52L734.65 207.52Z" fill="#13821a"/>
<path d="M746.7 205.35L750.05 211.15L743.35 211.15Z" fill="#13821a"/>
<path d="M742.2 212.01L745.55 217.81L738.85 217.81Z" fill="#13821a"/>
<path d="M738 228.35L741.35 234.15L734.65 234.15Z" fill="#13821a"/>
<path d="M746.7 229.36L750.05 235.16L743.35 235.16Z" fill="#13821a"/>
<path d="M738 236.63L741.35 242.43L734.65 242.43Z" fill="#13821a"/>
<path d="M742.2 237.43L745.55 243.23L738.85 243.23Z" fill="#13821a"/>
<path d="M746.7 240.26L750.05 246.06L743.35 246.06Z" fill="#13821a"/>
<path d="M738 243.49L741.35 249.29L734.65 249.29Z" fill="#13821a"/>
<path d="M763.5 292.87L766.85 287.07L760.15 287.07Z" fill="#0b0bc4"/>
<path d="M766.5 294.48L769.85 288.68L763.15 288.68Z" fill="#0b0bc4"/>
<path d="M760.5 296.5L763.85 290.7L757.15 290.7Z" fill="#0b0bc4"/>
<path d="M768.5 297.51L771.85 291.71L765.15 291.71Z" fill="#0b0bc4"/>
<path d="M764.5 298.52L767.85 292.72L761.15 292.72Z" fill="#0b0bc4"/>
<path d="M761.5 299.53L764.85 293.73L758.15 293.73Z" fill="#0b0bc4"/>
<path d="M767.5 300.54L770.85 294.74L764.15 294.74Z" fill="#0b0bc4"/>
<path d="M765.5 301.55L768.85 295.75L762.15 295.75Z" fill="#0b0bc4"/>
<path d="M763.5 302.56L766.85 296.76L760.15 296.76Z" fill="#0b0bc4"/>
<path d="M798.2 289.17H804.6M801.4 289.17V300.26M798.2 300.26H804.6" fill="none" stroke="#f80c10" stroke-width="1.1" stroke-linejoin="miter"/>
<circle cx="800.4" cy="286.14" r="3.2" fill="#f80c10"/>
<circle cx="801.9" cy="289.57" r="3.2" fill="#f80c10"/>
<circle cx="801.4" cy="292.8" r="3.2" fill="#f80c10"/>
<circle cx="801.4" cy="295.22" r="3.2" fill="#f80c10"/>
<circle cx="798.4" cy="296.83" r="3.2" fill="#f80c10"/>
<circle cx="797.4" cy="298.85" r="3.2" fill="#f80c10"/>
<circle cx="805.4" cy="299.26" r="3.2" fill="#f80c10"/>
<circle cx="801.4" cy="300.06" r="3.2" fill="#f80c10"/>
<circle cx="804.4" cy="297.24" r="3.2" fill="#f80c10"/>
<rect x="818.4" y="296.96" width="6.2" height="6.2" fill="#c6c41e"/>
<rect x="821.4" y="297.77" width="6.2" height="6.2" fill="#c6c41e"/>
<rect x="823.4" y="298.58" width="6.2" height="6.2" fill="#c6c41e"/>
<rect x="816.4" y="300.19" width="6.2" height="6.2" fill="#c6c41e"/>
<rect x="824.4" y="300.6" width="6.2" height="6.2" fill="#c6c41e"/>
<rect x="819.4" y="300.19" width="6.2" height="6.2" fill="#c6c41e"/>
<rect x="822.4" y="301" width="6.2" height="6.2" fill="#c6c41e"/>
<rect x="820.4" y="302.21" width="6.2" height="6.2" fill="#c6c41e"/>
<rect x="824.9" y="301.81" width="6.2" height="6.2" fill="#c6c41e"/>
<path d="M842.3 149.92H848.7M845.5 149.92V202.59M842.3 202.59H848.7" fill="none" stroke="#13821a" stroke-width="1.1" stroke-linejoin="miter"/>
<path d="M845.5 124.83L848.85 130.63L842.15 130.63Z" fill="#13821a"/>
<path d="M845.5 139.96L848.85 145.76L842.15 145.76Z" fill="#13821a"/>
<path d="M845.5 171.24L848.85 177.04L842.15 177.04Z" fill="#13821a"/>
<path d="M850 172.05L853.35 177.85L846.65 177.85Z" fill="#13821a"/>
<path d="M841.5 177.5L844.85 183.3L838.15 183.3Z" fill="#13821a"/>
<path d="M845.5 177.5L848.85 183.3L842.15 183.3Z" fill="#13821a"/>
<path d="M845.5 195.66L848.85 201.46L842.15 201.46Z" fill="#13821a"/>
<path d="M850 199.9L853.35 205.7L846.65 205.7Z" fill="#13821a"/>
<path d="M841.5 202.32L844.85 208.12L838.15 208.12Z" fill="#13821a"/>
<path d="M867.7 283.99L871.05 278.19L864.35 278.19Z" fill="#0b0bc4"/>
<path d="M863.7 287.42L867.05 281.62L860.35 281.62Z" fill="#0b0bc4"/>
<path d="M871.7 289.44L875.05 283.64L868.35 283.64Z" fill="#0b0bc4"/>
<path d="M865.7 290.45L869.05 284.65L862.35 284.65Z" fill="#0b0bc4"/>
<path d="M869.7 291.46L873.05 285.66L866.35 285.66Z" fill="#0b0bc4"/>
<path d="M867.7 292.47L871.05 286.67L864.35 286.67Z" fill="#0b0bc4"/>
<path d="M872.7 293.47L876.05 287.67L869.35 287.67Z" fill="#0b0bc4"/>
<path d="M868.7 296.5L872.05 290.7L865.35 290.7Z" fill="#0b0bc4"/>
<path d="M865.7 299.53L869.05 293.73L862.35 293.73Z" fill="#0b0bc4"/>
<path d="M593 276.5V266.5H615.8V276.5" fill="none" stroke="#000" stroke-width="1.7" stroke-linejoin="miter"/>
<text transform="translate(602.76 264.31)" font-size="18.53" text-anchor="middle" font-weight="bold" letter-spacing="0.93">**</text>
<path d="M617.6 228.2V218.6H639V228.2" fill="none" stroke="#000" stroke-width="1.7" stroke-linejoin="miter"/>
<text transform="translate(626.76 215.91)" font-size="18.53" text-anchor="middle" font-weight="bold" letter-spacing="0.93">**</text>
<path d="M638.6 195.7V185.7H659.2V195.7" fill="none" stroke="#000" stroke-width="1.7" stroke-linejoin="miter"/>
<text transform="translate(647.26 183.51)" font-size="18.53" text-anchor="middle" font-weight="bold" letter-spacing="0.93">**</text>
<path d="M697 279.4V269.8H718.7V279.4" fill="none" stroke="#000" stroke-width="1.7" stroke-linejoin="miter"/>
<text transform="translate(706.16 267.61)" font-size="18.53" text-anchor="middle" font-weight="bold" letter-spacing="0.93">**</text>
<path d="M721.3 196.8V187.2H741.8V196.8" fill="none" stroke="#000" stroke-width="1.7" stroke-linejoin="miter"/>
<text transform="translate(729.86 184.61)" font-size="18.53" text-anchor="middle" font-weight="bold" letter-spacing="0.93">**</text>
<path d="M739.4 167.7V158.1H763V167.7" fill="none" stroke="#000" stroke-width="1.7" stroke-linejoin="miter"/>
<text transform="translate(749.46 155.41)" font-size="18.53" text-anchor="middle" font-weight="bold" letter-spacing="0.93">**</text>
<path d="M799 279.8V270.2H819.3V279.8" fill="none" stroke="#000" stroke-width="1.7" stroke-linejoin="miter"/>
<text transform="translate(807.66 267.61)" font-size="18.53" text-anchor="middle" font-weight="bold" letter-spacing="0.93">**</text>
<path d="M819 124.5V114.2H842.6V124.5" fill="none" stroke="#000" stroke-width="1.7" stroke-linejoin="miter"/>
<text transform="translate(829.46 112.01)" font-size="18.53" text-anchor="middle" font-weight="bold" letter-spacing="0.93">**</text>
<path d="M846.2 124.5V114.2H867.1V124.5" fill="none" stroke="#000" stroke-width="1.7" stroke-linejoin="miter"/>
<text transform="translate(854.86 112.01)" font-size="18.53" text-anchor="middle" font-weight="bold" letter-spacing="0.93">**</text>
<circle cx="587.3" cy="55.9" r="3.2" fill="#f80c10"/>
<text transform="translate(610.4 61.79) scale(1 1.06)" font-size="16.6" stroke="#000" stroke-width="0.2">siCtrl</text>
<rect x="697.4" y="52.8" width="6.2" height="6.2" fill="#c6c41e"/>
<text transform="translate(723.6 61.79) scale(1 1.06)" font-size="16.6" stroke="#000" stroke-width="0.2">siCircRABL2B</text>
<path d="M587.3 70.3L590.65 76.1L583.95 76.1Z" fill="#13821a"/>
<text transform="translate(610.4 79.49) scale(1 1.06)" font-size="16.6" stroke="#000" stroke-width="0.2">+BECN1</text>
<path d="M700.5 76.9L703.85 71.1L697.15 71.1Z" fill="#0b0bc4"/>
<text transform="translate(723.6 79.49) scale(1 1.06)" font-size="16.6" stroke="#000" stroke-width="0.2">+BECN1ΔCCD-myc</text>
<rect x="167" y="567" width="11.8" height="63.3" fill="#fff" stroke="#000" stroke-width="2.75"/>
<rect x="188.1" y="501.25" width="11.8" height="129.05" fill="#fff" stroke="#000" stroke-width="2.75"/>
<rect x="209.3" y="610.84" width="11.8" height="19.46" fill="#fff" stroke="#000" stroke-width="2.75"/>
<rect x="230.5" y="548.31" width="11.8" height="81.99" fill="#fff" stroke="#000" stroke-width="2.75"/>
<rect x="266" y="567" width="11.8" height="63.3" fill="#fff" stroke="#000" stroke-width="2.75"/>
<rect x="287.4" y="526.39" width="11.8" height="103.91" fill="#fff" stroke="#000" stroke-width="2.75"/>
<rect x="308.3" y="617.29" width="11.8" height="13.01" fill="#fff" stroke="#000" stroke-width="2.75"/>
<rect x="329.7" y="568.29" width="11.8" height="62.01" fill="#fff" stroke="#000" stroke-width="2.75"/>
<rect x="365.1" y="567" width="11.8" height="63.3" fill="#fff" stroke="#000" stroke-width="2.75"/>
<rect x="386.1" y="526.39" width="11.8" height="103.91" fill="#fff" stroke="#000" stroke-width="2.75"/>
<rect x="407.3" y="623.09" width="11.8" height="7.21" fill="#fff" stroke="#000" stroke-width="2.75"/>
<rect x="428.7" y="582.48" width="11.8" height="47.82" fill="#fff" stroke="#000" stroke-width="2.75"/>
<line x1="159.1" y1="435.89" x2="159.1" y2="631.3" stroke="#000" stroke-width="2"/>
<line x1="158.1" y1="630.3" x2="449.8" y2="630.3" stroke="#000" stroke-width="2"/>
<line x1="150.2" y1="630.3" x2="159.1" y2="630.3" stroke="#000" stroke-width="2"/>
<text transform="translate(148 635.95) scale(1 0.98)" font-size="14.8" text-anchor="end" font-weight="bold">0</text>
<line x1="150.2" y1="565.83" x2="159.1" y2="565.83" stroke="#000" stroke-width="2"/>
<text transform="translate(148 571.48) scale(1 0.98)" font-size="14.8" text-anchor="end" font-weight="bold">1</text>
<line x1="150.2" y1="501.36" x2="159.1" y2="501.36" stroke="#000" stroke-width="2"/>
<text transform="translate(148 507.01) scale(1 0.98)" font-size="14.8" text-anchor="end" font-weight="bold">2</text>
<line x1="150.2" y1="436.89" x2="159.1" y2="436.89" stroke="#000" stroke-width="2"/>
<text transform="translate(148 442.54) scale(1 0.98)" font-size="14.8" text-anchor="end" font-weight="bold">3</text>
<line x1="204.1" y1="630.3" x2="204.1" y2="638.3" stroke="#000" stroke-width="2"/>
<text transform="translate(204.1 655.2) scale(1 1.06)" font-size="15.6" text-anchor="middle" font-weight="bold">A549</text>
<line x1="303.1" y1="630.3" x2="303.1" y2="638.3" stroke="#000" stroke-width="2"/>
<text transform="translate(303.1 655.2) scale(1 1.06)" font-size="15.6" text-anchor="middle" font-weight="bold">H838</text>
<line x1="402.6" y1="630.3" x2="402.6" y2="638.3" stroke="#000" stroke-width="2"/>
<text transform="translate(402.6 655.2) scale(1 1.06)" font-size="15.6" text-anchor="middle" font-weight="bold">H1299</text>
<text transform="translate(111.6 533) rotate(-90)" font-size="16.6" text-anchor="middle" font-weight="bold">Relative EGFR protein</text>
<text transform="translate(133.2 533) rotate(-90)" font-size="16.6" text-anchor="middle" font-weight="bold">expression</text>
<path d="M169.7 547.13H176.1M172.9 547.13V585.17M169.7 585.17H176.1" fill="none" stroke="#f80c10" stroke-width="1.1" stroke-linejoin="miter"/>
<circle cx="172.9" cy="538.75" r="3.2" fill="#f80c10"/>
<circle cx="175.3" cy="549.71" r="3.2" fill="#f80c10"/>
<circle cx="177.8" cy="549.71" r="3.2" fill="#f80c10"/>
<circle cx="168.4" cy="555.51" r="3.2" fill="#f80c10"/>
<circle cx="172.9" cy="561.96" r="3.2" fill="#f80c10"/>
<circle cx="172.9" cy="573.57" r="3.2" fill="#f80c10"/>
<circle cx="168.4" cy="580.01" r="3.2" fill="#f80c10"/>
<circle cx="177.1" cy="585.17" r="3.2" fill="#f80c10"/>
<circle cx="172.9" cy="596.78" r="3.2" fill="#f80c10"/>
<path d="M190.8 472.35H197.2M194 472.35V527.79M190.8 527.79H197.2" fill="none" stroke="#c6c41e" stroke-width="1.1" stroke-linejoin="miter"/>
<rect x="190.9" y="449.91" width="6.2" height="6.2" fill="#c6c41e"/>
<rect x="190.9" y="464.74" width="6.2" height="6.2" fill="#c6c41e"/>
<rect x="190.9" y="484.72" width="6.2" height="6.2" fill="#c6c41e"/>
<rect x="186.9" y="497.62" width="6.2" height="6.2" fill="#c6c41e"/>
<rect x="190.9" y="496.33" width="6.2" height="6.2" fill="#c6c41e"/>
<rect x="186.9" y="509.86" width="6.2" height="6.2" fill="#c6c41e"/>
<rect x="190.9" y="511.15" width="6.2" height="6.2" fill="#c6c41e"/>
<rect x="186.9" y="528.56" width="6.2" height="6.2" fill="#c6c41e"/>
<rect x="195.1" y="528.56" width="6.2" height="6.2" fill="#c6c41e"/>
<path d="M212.2 601.21L215.55 607.01L208.85 607.01Z" fill="#13821a"/>
<path d="M215.2 602.5L218.55 608.3L211.85 608.3Z" fill="#13821a"/>
<path d="M218.2 603.79L221.55 609.59L214.85 609.59Z" fill="#13821a"/>
<path d="M213.7 605.08L217.05 610.88L210.35 610.88Z" fill="#13821a"/>
<path d="M217.2 606.37L220.55 612.17L213.85 612.17Z" fill="#13821a"/>
<path d="M211.2 607.66L214.55 613.46L207.85 613.46Z" fill="#13821a"/>
<path d="M219.2 608.95L222.55 614.75L215.85 614.75Z" fill="#13821a"/>
<path d="M215.2 610.24L218.55 616.04L211.85 616.04Z" fill="#13821a"/>
<path d="M216.2 605.72L219.55 611.52L212.85 611.52Z" fill="#13821a"/>
<path d="M233.2 532.95H239.6M236.4 532.95V560.03M233.2 560.03H239.6" fill="none" stroke="#0b0bc4" stroke-width="1.1" stroke-linejoin="miter"/>
<path d="M236.4 527.22L239.75 521.42L233.05 521.42Z" fill="#0b0bc4"/>
<path d="M232.1 535.61L235.45 529.81L228.75 529.81Z" fill="#0b0bc4"/>
<path d="M240.6 541.41L243.95 535.61L237.25 535.61Z" fill="#0b0bc4"/>
<path d="M232.1 548.5L235.45 542.7L228.75 542.7Z" fill="#0b0bc4"/>
<path d="M236.4 548.5L239.75 542.7L233.05 542.7Z" fill="#0b0bc4"/>
<path d="M236.4 554.3L239.75 548.5L233.05 548.5Z" fill="#0b0bc4"/>
<path d="M232.1 567.84L235.45 562.04L228.75 562.04Z" fill="#0b0bc4"/>
<path d="M236.4 563.33L239.75 557.53L233.05 557.53Z" fill="#0b0bc4"/>
<path d="M240.6 563.97L243.95 558.17L237.25 558.17Z" fill="#0b0bc4"/>
<path d="M268.7 549.71H275.1M271.9 549.71V581.3M268.7 581.3H275.1" fill="none" stroke="#f80c10" stroke-width="1.1" stroke-linejoin="miter"/>
<circle cx="271.9" cy="536.82" r="3.2" fill="#f80c10"/>
<circle cx="271.9" cy="551" r="3.2" fill="#f80c10"/>
<circle cx="276.4" cy="558.09" r="3.2" fill="#f80c10"/>
<circle cx="271.9" cy="560.67" r="3.2" fill="#f80c10"/>
<circle cx="271.9" cy="565.83" r="3.2" fill="#f80c10"/>
<circle cx="267.7" cy="573.57" r="3.2" fill="#f80c10"/>
<circle cx="276.4" cy="580.01" r="3.2" fill="#f80c10"/>
<circle cx="271.9" cy="580.01" r="3.2" fill="#f80c10"/>
<circle cx="271.9" cy="587.11" r="3.2" fill="#f80c10"/>
<path d="M290.1 505.87H296.5M293.3 505.87V545.2M290.1 545.2H296.5" fill="none" stroke="#c6c41e" stroke-width="1.1" stroke-linejoin="miter"/>
<rect x="292.4" y="494.39" width="6.2" height="6.2" fill="#c6c41e"/>
<rect x="287.8" y="507.29" width="6.2" height="6.2" fill="#c6c41e"/>
<rect x="292.4" y="511.15" width="6.2" height="6.2" fill="#c6c41e"/>
<rect x="296.7" y="510.51" width="6.2" height="6.2" fill="#c6c41e"/>
<rect x="289.7" y="522.11" width="6.2" height="6.2" fill="#c6c41e"/>
<rect x="289.7" y="540.17" width="6.2" height="6.2" fill="#c6c41e"/>
<rect x="289.7" y="547.26" width="6.2" height="6.2" fill="#c6c41e"/>
<rect x="292.4" y="546.61" width="6.2" height="6.2" fill="#c6c41e"/>
<rect x="287.2" y="512.44" width="6.2" height="6.2" fill="#c6c41e"/>
<path d="M313.2 608.95L316.55 614.75L309.85 614.75Z" fill="#13821a"/>
<path d="M314.2 610.24L317.55 616.04L310.85 616.04Z" fill="#13821a"/>
<path d="M315.2 611.53L318.55 617.33L311.85 617.33Z" fill="#13821a"/>
<path d="M311.2 612.82L314.55 618.62L307.85 618.62Z" fill="#13821a"/>
<path d="M317.2 613.46L320.55 619.26L313.85 619.26Z" fill="#13821a"/>
<path d="M310.2 614.11L313.55 619.91L306.85 619.91Z" fill="#13821a"/>
<path d="M318.2 614.75L321.55 620.55L314.85 620.55Z" fill="#13821a"/>
<path d="M314.2 615.4L317.55 621.2L310.85 621.2Z" fill="#13821a"/>
<path d="M315.2 612.17L318.55 617.97L311.85 617.97Z" fill="#13821a"/>
<path d="M332.4 557.45H338.8M335.6 557.45V576.15M332.4 576.15H338.8" fill="none" stroke="#0b0bc4" stroke-width="1.1" stroke-linejoin="miter"/>
<path d="M331.4 559.46L334.75 553.66L328.05 553.66Z" fill="#0b0bc4"/>
<path d="M339.8 559.46L343.15 553.66L336.45 553.66Z" fill="#0b0bc4"/>
<path d="M335.6 561.39L338.95 555.59L332.25 555.59Z" fill="#0b0bc4"/>
<path d="M331.4 567.84L334.75 562.04L328.05 562.04Z" fill="#0b0bc4"/>
<path d="M339.8 566.55L343.15 560.75L336.45 560.75Z" fill="#0b0bc4"/>
<path d="M335.6 571.06L338.95 565.26L332.25 565.26Z" fill="#0b0bc4"/>
<path d="M331.4 576.87L334.75 571.07L328.05 571.07Z" fill="#0b0bc4"/>
<path d="M339.8 582.02L343.15 576.22L336.45 576.22Z" fill="#0b0bc4"/>
<path d="M331.4 584.6L334.75 578.8L328.05 578.8Z" fill="#0b0bc4"/>
<path d="M367.8 547.13H374.2M371 547.13V583.88M367.8 583.88H374.2" fill="none" stroke="#f80c10" stroke-width="1.1" stroke-linejoin="miter"/>
<circle cx="371" cy="534.24" r="3.2" fill="#f80c10"/>
<circle cx="371" cy="551" r="3.2" fill="#f80c10"/>
<circle cx="366.7" cy="552.94" r="3.2" fill="#f80c10"/>
<circle cx="366.7" cy="559.38" r="3.2" fill="#f80c10"/>
<circle cx="371" cy="564.54" r="3.2" fill="#f80c10"/>
<circle cx="371" cy="573.57" r="3.2" fill="#f80c10"/>
<circle cx="375.3" cy="580.01" r="3.2" fill="#f80c10"/>
<circle cx="371" cy="583.88" r="3.2" fill="#f80c10"/>
<circle cx="371" cy="594.2" r="3.2" fill="#f80c10"/>
<path d="M388.8 507.81H395.2M392 507.81V542.62M388.8 542.62H395.2" fill="none" stroke="#c6c41e" stroke-width="1.1" stroke-linejoin="miter"/>
<rect x="388.9" y="498.26" width="6.2" height="6.2" fill="#c6c41e"/>
<rect x="393.2" y="504.71" width="6.2" height="6.2" fill="#c6c41e"/>
<rect x="384.6" y="510.51" width="6.2" height="6.2" fill="#c6c41e"/>
<rect x="393.2" y="511.15" width="6.2" height="6.2" fill="#c6c41e"/>
<rect x="388.9" y="517.6" width="6.2" height="6.2" fill="#c6c41e"/>
<rect x="384.6" y="522.11" width="6.2" height="6.2" fill="#c6c41e"/>
<rect x="388.9" y="536.94" width="6.2" height="6.2" fill="#c6c41e"/>
<rect x="393.2" y="541.45" width="6.2" height="6.2" fill="#c6c41e"/>
<rect x="384.6" y="546.61" width="6.2" height="6.2" fill="#c6c41e"/>
<path d="M412.2 615.4L415.55 621.2L408.85 621.2Z" fill="#13821a"/>
<path d="M413.2 616.68L416.55 622.48L409.85 622.48Z" fill="#13821a"/>
<path d="M414.2 617.33L417.55 623.13L410.85 623.13Z" fill="#13821a"/>
<path d="M410.2 618.62L413.55 624.42L406.85 624.42Z" fill="#13821a"/>
<path d="M416.2 619.26L419.55 625.06L412.85 625.06Z" fill="#13821a"/>
<path d="M408.7 619.91L412.05 625.71L405.35 625.71Z" fill="#13821a"/>
<path d="M417.7 620.55L421.05 626.35L414.35 626.35Z" fill="#13821a"/>
<path d="M413.2 621.2L416.55 627L409.85 627Z" fill="#13821a"/>
<path d="M414.2 617.97L417.55 623.77L410.85 623.77Z" fill="#13821a"/>
<path d="M431.4 572.28H437.8M434.6 572.28V590.33M431.4 590.33H437.8" fill="none" stroke="#0b0bc4" stroke-width="1.1" stroke-linejoin="miter"/>
<path d="M435.6 573.64L438.95 567.84L432.25 567.84Z" fill="#0b0bc4"/>
<path d="M433.6 575.58L436.95 569.78L430.25 569.78Z" fill="#0b0bc4"/>
<path d="M434.6 578.16L437.95 572.36L431.25 572.36Z" fill="#0b0bc4"/>
<path d="M438.6 580.73L441.95 574.93L435.25 574.93Z" fill="#0b0bc4"/>
<path d="M430.6 583.31L433.95 577.51L427.25 577.51Z" fill="#0b0bc4"/>
<path d="M434.6 585.89L437.95 580.09L431.25 580.09Z" fill="#0b0bc4"/>
<path d="M436.6 589.76L439.95 583.96L433.25 583.96Z" fill="#0b0bc4"/>
<path d="M432.6 593.63L435.95 587.83L429.25 587.83Z" fill="#0b0bc4"/>
<path d="M434.6 597.5L437.95 591.7L431.25 591.7Z" fill="#0b0bc4"/>
<path d="M174.9 448.5V438.7H189.9V448.5" fill="none" stroke="#000" stroke-width="1.7" stroke-linejoin="miter"/>
<text transform="translate(180.96 436.91)" font-size="18.53" text-anchor="middle" font-weight="bold" letter-spacing="0.93">**</text>
<path d="M192.3 448.5V438.7H211.2V448.5" fill="none" stroke="#000" stroke-width="1.7" stroke-linejoin="miter"/>
<text transform="translate(200.36 436.91)" font-size="18.53" text-anchor="middle" font-weight="bold" letter-spacing="0.93">**</text>
<path d="M217.4 519V509.4H235.7V519" fill="none" stroke="#000" stroke-width="1.7" stroke-linejoin="miter"/>
<text transform="translate(224.86 507.71)" font-size="18.53" text-anchor="middle" font-weight="bold" letter-spacing="0.93">**</text>
<path d="M272 492.6V483.6H288.6V492.6" fill="none" stroke="#000" stroke-width="1.7" stroke-linejoin="miter"/>
<text transform="translate(278.46 481.71)" font-size="18.53" text-anchor="middle" font-weight="bold" letter-spacing="0.93">**</text>
<path d="M291.8 492.6V483.6H312.2V492.6" fill="none" stroke="#000" stroke-width="1.7" stroke-linejoin="miter"/>
<text transform="translate(300.46 481.71)" font-size="18.53" text-anchor="middle" font-weight="bold" letter-spacing="0.93">**</text>
<path d="M316 548V538.6H334.1V548" fill="none" stroke="#000" stroke-width="1.7" stroke-linejoin="miter"/>
<text transform="translate(323.46 536.81)" font-size="18.53" text-anchor="middle" font-weight="bold" letter-spacing="0.93">**</text>
<path d="M367.6 494.5V485H388.1V494.5" fill="none" stroke="#000" stroke-width="1.7" stroke-linejoin="miter"/>
<text transform="translate(376.36 483.21)" font-size="18.53" text-anchor="middle" font-weight="bold" letter-spacing="0.93">**</text>
<path d="M390.4 494.5V485H412.6V494.5" fill="none" stroke="#000" stroke-width="1.7" stroke-linejoin="miter"/>
<text transform="translate(399.96 483.21)" font-size="18.53" text-anchor="middle" font-weight="bold" letter-spacing="0.93">**</text>
<path d="M413.7 565.3V555.9H434V565.3" fill="none" stroke="#000" stroke-width="1.7" stroke-linejoin="miter"/>
<text transform="translate(422.46 554.01)" font-size="18.53" text-anchor="middle" font-weight="bold" letter-spacing="0.93">**</text>
<circle cx="177.2" cy="384.7" r="2.88" fill="#f80c10"/>
<text transform="translate(199.4 390.38) scale(1 1.06)" font-size="16" stroke="#000" stroke-width="0.2">siCtrl</text>
<rect x="271.61" y="381.91" width="5.58" height="5.58" fill="#c6c41e"/>
<text transform="translate(295.4 390.38) scale(1 1.06)" font-size="16" stroke="#000" stroke-width="0.2">siCircRABL2B</text>
<path d="M177.2 401.03L180.21 406.25L174.19 406.25Z" fill="#13821a"/>
<text transform="translate(199.4 409.68) scale(1 1.06)" font-size="16" stroke="#000" stroke-width="0.2">+BECN1</text>
<path d="M274.4 406.97L277.41 401.75L271.38 401.75Z" fill="#0b0bc4"/>
<text transform="translate(295.4 409.68) scale(1 1.06)" font-size="16" stroke="#000" stroke-width="0.2">+BECN1ΔCCD-myc</text>
<rect x="583.4" y="579.77" width="11.8" height="50.62" fill="#fff" stroke="#000" stroke-width="2.75"/>
<rect x="606.4" y="532.12" width="11.8" height="98.28" fill="#fff" stroke="#000" stroke-width="2.75"/>
<rect x="629.1" y="611.89" width="11.8" height="18.51" fill="#fff" stroke="#000" stroke-width="2.75"/>
<rect x="651.9" y="566.82" width="11.8" height="63.58" fill="#fff" stroke="#000" stroke-width="2.75"/>
<rect x="689.5" y="579.77" width="11.8" height="50.62" fill="#fff" stroke="#000" stroke-width="2.75"/>
<rect x="712.5" y="550.25" width="11.8" height="80.15" fill="#fff" stroke="#000" stroke-width="2.75"/>
<rect x="734.9" y="616.55" width="11.8" height="13.85" fill="#fff" stroke="#000" stroke-width="2.75"/>
<rect x="757.6" y="580.81" width="11.8" height="49.59" fill="#fff" stroke="#000" stroke-width="2.75"/>
<rect x="795.5" y="579.77" width="11.8" height="50.62" fill="#fff" stroke="#000" stroke-width="2.75"/>
<rect x="818.3" y="550.25" width="11.8" height="80.15" fill="#fff" stroke="#000" stroke-width="2.75"/>
<rect x="841" y="620.7" width="11.8" height="9.7" fill="#fff" stroke="#000" stroke-width="2.75"/>
<rect x="863.8" y="591.17" width="11.8" height="39.23" fill="#fff" stroke="#000" stroke-width="2.75"/>
<line x1="574.6" y1="422.2" x2="574.6" y2="631.4" stroke="#000" stroke-width="2"/>
<line x1="573.6" y1="630.4" x2="885" y2="630.4" stroke="#000" stroke-width="2"/>
<line x1="565.7" y1="630.4" x2="574.6" y2="630.4" stroke="#000" stroke-width="2"/>
<text transform="translate(563.5 636.05) scale(1 0.98)" font-size="14.8" text-anchor="end" font-weight="bold">0</text>
<line x1="565.7" y1="578.6" x2="574.6" y2="578.6" stroke="#000" stroke-width="2"/>
<text transform="translate(563.5 584.25) scale(1 0.98)" font-size="14.8" text-anchor="end" font-weight="bold">1</text>
<line x1="565.7" y1="526.8" x2="574.6" y2="526.8" stroke="#000" stroke-width="2"/>
<text transform="translate(563.5 532.45) scale(1 0.98)" font-size="14.8" text-anchor="end" font-weight="bold">2</text>
<line x1="565.7" y1="475" x2="574.6" y2="475" stroke="#000" stroke-width="2"/>
<text transform="translate(563.5 480.65) scale(1 0.98)" font-size="14.8" text-anchor="end" font-weight="bold">3</text>
<line x1="565.7" y1="423.2" x2="574.6" y2="423.2" stroke="#000" stroke-width="2"/>
<text transform="translate(563.5 428.85) scale(1 0.98)" font-size="14.8" text-anchor="end" font-weight="bold">4</text>
<line x1="623" y1="630.4" x2="623" y2="638.4" stroke="#000" stroke-width="2"/>
<text transform="translate(623 657) scale(1 1.06)" font-size="15.6" text-anchor="middle" font-weight="bold">A549</text>
<line x1="728.6" y1="630.4" x2="728.6" y2="638.4" stroke="#000" stroke-width="2"/>
<text transform="translate(728.6 657) scale(1 1.06)" font-size="15.6" text-anchor="middle" font-weight="bold">H838</text>
<line x1="834.8" y1="630.4" x2="834.8" y2="638.4" stroke="#000" stroke-width="2"/>
<text transform="translate(834.8 657) scale(1 1.06)" font-size="15.6" text-anchor="middle" font-weight="bold">H1299</text>
<text transform="translate(523.6 528) rotate(-90)" font-size="16.6" text-anchor="middle" font-weight="bold">Relative ERK1/2</text>
<text transform="translate(546.4 528) rotate(-90)" font-size="16.6" text-anchor="middle" font-weight="bold">phosphorylation</text>
<path d="M586.1 566.17H592.5M589.3 566.17V591.03M586.1 591.03H592.5" fill="none" stroke="#f80c10" stroke-width="1.1" stroke-linejoin="miter"/>
<circle cx="584.8" cy="564.61" r="3.2" fill="#f80c10"/>
<circle cx="589.3" cy="569.28" r="3.2" fill="#f80c10"/>
<circle cx="593.9" cy="567.2" r="3.2" fill="#f80c10"/>
<circle cx="589.3" cy="577.56" r="3.2" fill="#f80c10"/>
<circle cx="589.3" cy="581.71" r="3.2" fill="#f80c10"/>
<circle cx="589.3" cy="586.37" r="3.2" fill="#f80c10"/>
<circle cx="587.3" cy="588.96" r="3.2" fill="#f80c10"/>
<circle cx="591.3" cy="587.92" r="3.2" fill="#f80c10"/>
<circle cx="587.8" cy="601.91" r="3.2" fill="#f80c10"/>
<path d="M609.1 506.08H615.5M612.3 506.08V555.81M609.1 555.81H615.5" fill="none" stroke="#c6c41e" stroke-width="1.1" stroke-linejoin="miter"/>
<rect x="609.2" y="477.6" width="6.2" height="6.2" fill="#c6c41e"/>
<rect x="609.2" y="504.53" width="6.2" height="6.2" fill="#c6c41e"/>
<rect x="609.2" y="514.89" width="6.2" height="6.2" fill="#c6c41e"/>
<rect x="604.9" y="526.81" width="6.2" height="6.2" fill="#c6c41e"/>
<rect x="609.2" y="526.29" width="6.2" height="6.2" fill="#c6c41e"/>
<rect x="609.2" y="540.28" width="6.2" height="6.2" fill="#c6c41e"/>
<rect x="609.2" y="549.6" width="6.2" height="6.2" fill="#c6c41e"/>
<rect x="604.9" y="554.78" width="6.2" height="6.2" fill="#c6c41e"/>
<rect x="613.6" y="551.15" width="6.2" height="6.2" fill="#c6c41e"/>
<path d="M631.8 605.54H638.2M635 605.54V615.9M631.8 615.9H638.2" fill="none" stroke="#13821a" stroke-width="1.1" stroke-linejoin="miter"/>
<path d="M635 598.61L638.35 604.41L631.65 604.41Z" fill="#13821a"/>
<path d="M633 602.24L636.35 608.04L629.65 608.04Z" fill="#13821a"/>
<path d="M637 604.31L640.35 610.11L633.65 610.11Z" fill="#13821a"/>
<path d="M631 606.38L634.35 612.18L627.65 612.18Z" fill="#13821a"/>
<path d="M639 607.42L642.35 613.22L635.65 613.22Z" fill="#13821a"/>
<path d="M635 609.49L638.35 615.29L631.65 615.29Z" fill="#13821a"/>
<path d="M632 610.52L635.35 616.32L628.65 616.32Z" fill="#13821a"/>
<path d="M638 611.56L641.35 617.36L634.65 617.36Z" fill="#13821a"/>
<path d="M636 612.6L639.35 618.4L632.65 618.4Z" fill="#13821a"/>
<path d="M654.6 549.59H661M657.8 549.59V581.19M654.6 581.19H661" fill="none" stroke="#0b0bc4" stroke-width="1.1" stroke-linejoin="miter"/>
<path d="M662.2 552.37L665.55 546.57L658.85 546.57Z" fill="#0b0bc4"/>
<path d="M657.8 553.41L661.15 547.61L654.45 547.61Z" fill="#0b0bc4"/>
<path d="M653.5 556L656.85 550.2L650.15 550.2Z" fill="#0b0bc4"/>
<path d="M657.8 561.18L661.15 555.38L654.45 555.38Z" fill="#0b0bc4"/>
<path d="M657.8 570.5L661.15 564.7L654.45 564.7Z" fill="#0b0bc4"/>
<path d="M655.8 576.72L659.15 570.92L652.45 570.92Z" fill="#0b0bc4"/>
<path d="M657.8 582.94L661.15 577.14L654.45 577.14Z" fill="#0b0bc4"/>
<path d="M655.8 584.49L659.15 578.69L652.45 578.69Z" fill="#0b0bc4"/>
<path d="M656.3 595.89L659.65 590.09L652.95 590.09Z" fill="#0b0bc4"/>
<path d="M692.2 564.61H698.6M695.4 564.61V590M692.2 590H698.6" fill="none" stroke="#f80c10" stroke-width="1.1" stroke-linejoin="miter"/>
<circle cx="696.9" cy="557.88" r="3.2" fill="#f80c10"/>
<circle cx="693.9" cy="564.61" r="3.2" fill="#f80c10"/>
<circle cx="697.4" cy="567.2" r="3.2" fill="#f80c10"/>
<circle cx="691.4" cy="584.82" r="3.2" fill="#f80c10"/>
<circle cx="695.4" cy="581.71" r="3.2" fill="#f80c10"/>
<circle cx="699.4" cy="583.78" r="3.2" fill="#f80c10"/>
<circle cx="691.4" cy="588.96" r="3.2" fill="#f80c10"/>
<circle cx="695.4" cy="588.96" r="3.2" fill="#f80c10"/>
<circle cx="699.8" cy="588.96" r="3.2" fill="#f80c10"/>
<path d="M715.2 530.94H721.6M718.4 530.94V567.2M715.2 567.2H721.6" fill="none" stroke="#c6c41e" stroke-width="1.1" stroke-linejoin="miter"/>
<rect x="715.3" y="511.27" width="6.2" height="6.2" fill="#c6c41e"/>
<rect x="712.7" y="530.43" width="6.2" height="6.2" fill="#c6c41e"/>
<rect x="717.9" y="530.43" width="6.2" height="6.2" fill="#c6c41e"/>
<rect x="715.3" y="536.13" width="6.2" height="6.2" fill="#c6c41e"/>
<rect x="715.3" y="547.01" width="6.2" height="6.2" fill="#c6c41e"/>
<rect x="710.9" y="561.51" width="6.2" height="6.2" fill="#c6c41e"/>
<rect x="719.7" y="564.1" width="6.2" height="6.2" fill="#c6c41e"/>
<rect x="715.3" y="568.77" width="6.2" height="6.2" fill="#c6c41e"/>
<rect x="719.7" y="568.25" width="6.2" height="6.2" fill="#c6c41e"/>
<path d="M737.6 611.75H744M740.8 611.75V619.52M737.6 619.52H744" fill="none" stroke="#13821a" stroke-width="1.1" stroke-linejoin="miter"/>
<path d="M740.8 605.34L744.15 611.14L737.45 611.14Z" fill="#13821a"/>
<path d="M738.8 607.42L742.15 613.22L735.45 613.22Z" fill="#13821a"/>
<path d="M742.8 609.49L746.15 615.29L739.45 615.29Z" fill="#13821a"/>
<path d="M736.8 610.52L740.15 616.32L733.45 616.32Z" fill="#13821a"/>
<path d="M744.8 611.56L748.15 617.36L741.45 617.36Z" fill="#13821a"/>
<path d="M740.8 612.6L744.15 618.4L737.45 618.4Z" fill="#13821a"/>
<path d="M737.8 614.15L741.15 619.95L734.45 619.95Z" fill="#13821a"/>
<path d="M743.8 614.67L747.15 620.47L740.45 620.47Z" fill="#13821a"/>
<path d="M741.8 615.7L745.15 621.5L738.45 621.5Z" fill="#13821a"/>
<path d="M760.3 571.35H766.7M763.5 571.35V588.96M760.3 588.96H766.7" fill="none" stroke="#0b0bc4" stroke-width="1.1" stroke-linejoin="miter"/>
<path d="M759.2 572.58L762.55 566.78L755.85 566.78Z" fill="#0b0bc4"/>
<path d="M763.5 574.13L766.85 568.33L760.15 568.33Z" fill="#0b0bc4"/>
<path d="M767.8 575.68L771.15 569.88L764.45 569.88Z" fill="#0b0bc4"/>
<path d="M761.5 580.86L764.85 575.06L758.15 575.06Z" fill="#0b0bc4"/>
<path d="M765.5 582.94L768.85 577.14L762.15 577.14Z" fill="#0b0bc4"/>
<path d="M763.5 586.04L766.85 580.24L760.15 580.24Z" fill="#0b0bc4"/>
<path d="M762.5 589.15L765.85 583.35L759.15 583.35Z" fill="#0b0bc4"/>
<path d="M764.5 592.26L767.85 586.46L761.15 586.46Z" fill="#0b0bc4"/>
<path d="M763.5 595.37L766.85 589.57L760.15 589.57Z" fill="#0b0bc4"/>
<path d="M798.2 565.13H804.6M801.4 565.13V591.03M798.2 591.03H804.6" fill="none" stroke="#f80c10" stroke-width="1.1" stroke-linejoin="miter"/>
<circle cx="803" cy="558.92" r="3.2" fill="#f80c10"/>
<circle cx="803.9" cy="564.61" r="3.2" fill="#f80c10"/>
<circle cx="800.4" cy="568.24" r="3.2" fill="#f80c10"/>
<circle cx="801.4" cy="570.31" r="3.2" fill="#f80c10"/>
<circle cx="797.4" cy="587.92" r="3.2" fill="#f80c10"/>
<circle cx="801.4" cy="586.89" r="3.2" fill="#f80c10"/>
<circle cx="805.6" cy="587.92" r="3.2" fill="#f80c10"/>
<circle cx="801.4" cy="592.07" r="3.2" fill="#f80c10"/>
<circle cx="800.2" cy="599.32" r="3.2" fill="#f80c10"/>
<path d="M821 527.32H827.4M824.2 527.32V569.28M821 569.28H827.4" fill="none" stroke="#c6c41e" stroke-width="1.1" stroke-linejoin="miter"/>
<rect x="821.1" y="506.09" width="6.2" height="6.2" fill="#c6c41e"/>
<rect x="821.1" y="518.52" width="6.2" height="6.2" fill="#c6c41e"/>
<rect x="821.1" y="535.1" width="6.2" height="6.2" fill="#c6c41e"/>
<rect x="816.7" y="547.01" width="6.2" height="6.2" fill="#c6c41e"/>
<rect x="821.1" y="549.6" width="6.2" height="6.2" fill="#c6c41e"/>
<rect x="825.6" y="551.67" width="6.2" height="6.2" fill="#c6c41e"/>
<rect x="816.7" y="563.07" width="6.2" height="6.2" fill="#c6c41e"/>
<rect x="821.1" y="564.1" width="6.2" height="6.2" fill="#c6c41e"/>
<rect x="825.6" y="563.07" width="6.2" height="6.2" fill="#c6c41e"/>
<path d="M843.7 615.9H850.1M846.9 615.9V623.15M843.7 623.15H850.1" fill="none" stroke="#13821a" stroke-width="1.1" stroke-linejoin="miter"/>
<path d="M846.9 610.52L850.25 616.32L843.55 616.32Z" fill="#13821a"/>
<path d="M844.9 612.6L848.25 618.4L841.55 618.4Z" fill="#13821a"/>
<path d="M848.9 613.63L852.25 619.43L845.55 619.43Z" fill="#13821a"/>
<path d="M842.9 615.19L846.25 620.99L839.55 620.99Z" fill="#13821a"/>
<path d="M850.9 616.22L854.25 622.02L847.55 622.02Z" fill="#13821a"/>
<path d="M846.9 617.26L850.25 623.06L843.55 623.06Z" fill="#13821a"/>
<path d="M843.9 618.29L847.25 624.09L840.55 624.09Z" fill="#13821a"/>
<path d="M849.9 619.33L853.25 625.13L846.55 625.13Z" fill="#13821a"/>
<path d="M847.9 619.85L851.25 625.65L844.55 625.65Z" fill="#13821a"/>
<path d="M866.5 580.67H872.9M869.7 580.67V599.32M866.5 599.32H872.9" fill="none" stroke="#0b0bc4" stroke-width="1.1" stroke-linejoin="miter"/>
<path d="M871.2 581.9L874.55 576.1L867.85 576.1Z" fill="#0b0bc4"/>
<path d="M866.7 585.01L870.05 579.21L863.35 579.21Z" fill="#0b0bc4"/>
<path d="M872.7 588.12L876.05 582.32L869.35 582.32Z" fill="#0b0bc4"/>
<path d="M869.7 591.22L873.05 585.42L866.35 585.42Z" fill="#0b0bc4"/>
<path d="M865.7 593.3L869.05 587.5L862.35 587.5Z" fill="#0b0bc4"/>
<path d="M873.7 596.4L877.05 590.6L870.35 590.6Z" fill="#0b0bc4"/>
<path d="M869.7 598.48L873.05 592.68L866.35 592.68Z" fill="#0b0bc4"/>
<path d="M868.7 603.66L872.05 597.86L865.35 597.86Z" fill="#0b0bc4"/>
<path d="M868.2 608.84L871.55 603.04L864.85 603.04Z" fill="#0b0bc4"/>
<path d="M590.4 474.4V465H607.4V474.4" fill="none" stroke="#000" stroke-width="1.7" stroke-linejoin="miter"/>
<text transform="translate(597.86 461.91)" font-size="18.53" text-anchor="middle" font-weight="bold" letter-spacing="0.93">**</text>
<path d="M610.1 474.4V465H630.6V474.4" fill="none" stroke="#000" stroke-width="1.7" stroke-linejoin="miter"/>
<text transform="translate(619.06 461.91)" font-size="18.53" text-anchor="middle" font-weight="bold" letter-spacing="0.93">**</text>
<path d="M637.2 537.6V527.9H656.5V537.6" fill="none" stroke="#000" stroke-width="1.7" stroke-linejoin="miter"/>
<text transform="translate(645.26 524.81)" font-size="18.53" text-anchor="middle" font-weight="bold" letter-spacing="0.93">**</text>
<path d="M695.9 504.4V494.6H713.4V504.4" fill="none" stroke="#000" stroke-width="1.7" stroke-linejoin="miter"/>
<text transform="translate(703.46 491.71)" font-size="18.53" text-anchor="middle" font-weight="bold" letter-spacing="0.93">**</text>
<path d="M716.9 504.4V494.6H736.4V504.4" fill="none" stroke="#000" stroke-width="1.7" stroke-linejoin="miter"/>
<text transform="translate(724.96 491.71)" font-size="18.53" text-anchor="middle" font-weight="bold" letter-spacing="0.93">**</text>
<path d="M741.9 562.6V552.2H762.4V562.6" fill="none" stroke="#000" stroke-width="1.7" stroke-linejoin="miter"/>
<text transform="translate(750.46 549.91)" font-size="18.53" text-anchor="middle" font-weight="bold" letter-spacing="0.93">**</text>
<path d="M800.9 501.5V491.5H819.8V501.5" fill="none" stroke="#000" stroke-width="1.7" stroke-linejoin="miter"/>
<text transform="translate(808.86 488.81)" font-size="18.53" text-anchor="middle" font-weight="bold" letter-spacing="0.93">**</text>
<path d="M822.5 501.5V491.5H844.5V501.5" fill="none" stroke="#000" stroke-width="1.7" stroke-linejoin="miter"/>
<text transform="translate(831.66 488.81)" font-size="18.53" text-anchor="middle" font-weight="bold" letter-spacing="0.93">**</text>
<path d="M847.3 572.6V562.6H868.1V572.6" fill="none" stroke="#000" stroke-width="1.7" stroke-linejoin="miter"/>
<text transform="translate(855.76 560.31)" font-size="18.53" text-anchor="middle" font-weight="bold" letter-spacing="0.93">**</text>
<circle cx="597.2" cy="382.6" r="2.88" fill="#f80c10"/>
<text transform="translate(620.6 388.64) scale(1 1.06)" font-size="17" stroke="#000" stroke-width="0.2">siCtrl</text>
<rect x="701.01" y="379.81" width="5.58" height="5.58" fill="#c6c41e"/>
<text transform="translate(726.5 388.64) scale(1 1.06)" font-size="17" stroke="#000" stroke-width="0.2">siCircRABL2B</text>
<path d="M597.2 400.63L600.22 405.85L594.19 405.85Z" fill="#13821a"/>
<text transform="translate(620.6 409.64) scale(1 1.06)" font-size="17" stroke="#000" stroke-width="0.2">+BECN1</text>
<path d="M703.8 406.57L706.81 401.35L700.78 401.35Z" fill="#0b0bc4"/>
<text transform="translate(726.5 409.64) scale(1 1.06)" font-size="17" stroke="#000" stroke-width="0.2">+BECN1ΔCCD-myc</text>
<path d="M91.7 850.88H97.7M94.7 850.88V860.11M91.7 860.11H97.7" fill="none" stroke="#c6c41e" stroke-width="1" stroke-linejoin="miter"/>
<path d="M145.1 833.19H151.1M148.1 833.19V855.49M145.1 855.49H151.1" fill="none" stroke="#c6c41e" stroke-width="1" stroke-linejoin="miter"/>
<path d="M198.8 780.51H204.8M201.8 780.51V811.66M198.8 811.66H204.8" fill="none" stroke="#c6c41e" stroke-width="1" stroke-linejoin="miter"/>
<path d="M252.2 741.76H258.2M255.2 741.76V785.21M252.2 785.21H258.2" fill="none" stroke="#c6c41e" stroke-width="1" stroke-linejoin="miter"/>
<path d="M91.7 847.8H97.7M94.7 847.8V860.88M91.7 860.88H97.7" fill="none" stroke="#0b0bc4" stroke-width="1" stroke-linejoin="miter"/>
<path d="M145.1 836.27H151.1M148.1 836.27V851.65M145.1 851.65H151.1" fill="none" stroke="#0b0bc4" stroke-width="1" stroke-linejoin="miter"/>
<path d="M198.8 803.58H204.8M201.8 803.58V815.89M198.8 815.89H204.8" fill="none" stroke="#0b0bc4" stroke-width="1" stroke-linejoin="miter"/>
<path d="M252.2 778.21H258.2M255.2 778.21V797.43M252.2 797.43H258.2" fill="none" stroke="#0b0bc4" stroke-width="1" stroke-linejoin="miter"/>
<path d="M91.7 852.42H97.7M94.7 852.42V860.11M91.7 860.11H97.7" fill="none" stroke="#13821a" stroke-width="1" stroke-linejoin="miter"/>
<path d="M145.1 846.8H151.1M148.1 846.8V856.03M145.1 856.03H151.1" fill="none" stroke="#13821a" stroke-width="1" stroke-linejoin="miter"/>
<path d="M198.8 816.2H204.8M201.8 816.2V835.42M198.8 835.42H204.8" fill="none" stroke="#13821a" stroke-width="1" stroke-linejoin="miter"/>
<path d="M252.2 796.51H258.2M255.2 796.51V818.81M252.2 818.81H258.2" fill="none" stroke="#13821a" stroke-width="1" stroke-linejoin="miter"/>
<path d="M91.7 852.03H97.7M94.7 852.03V861.26M91.7 861.26H97.7" fill="none" stroke="#f80c10" stroke-width="1" stroke-linejoin="miter"/>
<path d="M145.1 839.65H151.1M148.1 839.65V850.42M145.1 850.42H151.1" fill="none" stroke="#f80c10" stroke-width="1" stroke-linejoin="miter"/>
<path d="M198.8 801.35H204.8M201.8 801.35V827.12M198.8 827.12H204.8" fill="none" stroke="#f80c10" stroke-width="1" stroke-linejoin="miter"/>
<path d="M252.2 778.75H258.2M255.2 778.75V807.97M252.2 807.97H258.2" fill="none" stroke="#f80c10" stroke-width="1" stroke-linejoin="miter"/>
<path d="M94.7 855.49L148.1 842.42L201.8 796.28L255.2 763.67" fill="none" stroke="#000" stroke-width="1.5" stroke-linejoin="round"/>
<path d="M94.7 854.72L148.1 843.96L201.8 809.74L255.2 787.05" fill="none" stroke="#000" stroke-width="1.5" stroke-linejoin="round"/>
<path d="M94.7 856.26L148.1 851.42L201.8 825.42L255.2 808.04" fill="none" stroke="#000" stroke-width="1.5" stroke-linejoin="round"/>
<path d="M94.7 856.65L148.1 845.03L201.8 814.43L255.2 794.13" fill="none" stroke="#000" stroke-width="1.5" stroke-linejoin="round"/>
<rect x="91.23" y="852.02" width="6.94" height="6.94" fill="#c6c41e"/>
<rect x="144.63" y="838.95" width="6.94" height="6.94" fill="#c6c41e"/>
<rect x="198.33" y="792.81" width="6.94" height="6.94" fill="#c6c41e"/>
<rect x="251.73" y="760.2" width="6.94" height="6.94" fill="#c6c41e"/>
<path d="M94.7 857.86L97.88 852.35L91.52 852.35Z" fill="#0b0bc4"/>
<path d="M148.1 847.09L151.28 841.58L144.92 841.58Z" fill="#0b0bc4"/>
<path d="M201.8 812.87L204.98 807.36L198.62 807.36Z" fill="#0b0bc4"/>
<path d="M255.2 790.19L258.38 784.68L252.02 784.68Z" fill="#0b0bc4"/>
<path d="M94.7 853.13L97.88 858.64L91.52 858.64Z" fill="#13821a"/>
<path d="M148.1 848.28L151.28 853.79L144.92 853.79Z" fill="#13821a"/>
<path d="M201.8 822.29L204.98 827.8L198.62 827.8Z" fill="#13821a"/>
<path d="M255.2 804.91L258.38 810.42L252.02 810.42Z" fill="#13821a"/>
<circle cx="94.7" cy="856.65" r="3.46" fill="#f80c10"/>
<circle cx="148.1" cy="845.03" r="3.46" fill="#f80c10"/>
<circle cx="201.8" cy="814.43" r="3.46" fill="#f80c10"/>
<circle cx="255.2" cy="794.13" r="3.46" fill="#f80c10"/>
<line x1="59.6" y1="725.42" x2="59.6" y2="880.98" stroke="#000" stroke-width="1.75"/>
<line x1="58.73" y1="880.1" x2="291.3" y2="880.1" stroke="#000" stroke-width="1.75"/>
<line x1="52.6" y1="880.1" x2="59.6" y2="880.1" stroke="#000" stroke-width="1.75"/>
<text transform="translate(51.2 884.58) scale(1 1.08)" font-size="11.6" text-anchor="end" font-weight="bold">0.0</text>
<line x1="52.6" y1="841.65" x2="59.6" y2="841.65" stroke="#000" stroke-width="1.75"/>
<text transform="translate(51.2 846.13) scale(1 1.08)" font-size="11.6" text-anchor="end" font-weight="bold">0.5</text>
<line x1="52.6" y1="803.2" x2="59.6" y2="803.2" stroke="#000" stroke-width="1.75"/>
<text transform="translate(51.2 807.68) scale(1 1.08)" font-size="11.6" text-anchor="end" font-weight="bold">1.0</text>
<line x1="52.6" y1="764.75" x2="59.6" y2="764.75" stroke="#000" stroke-width="1.75"/>
<text transform="translate(51.2 769.23) scale(1 1.08)" font-size="11.6" text-anchor="end" font-weight="bold">1.5</text>
<line x1="52.6" y1="726.3" x2="59.6" y2="726.3" stroke="#000" stroke-width="1.75"/>
<text transform="translate(51.2 730.78) scale(1 1.08)" font-size="11.6" text-anchor="end" font-weight="bold">2.0</text>
<line x1="94.7" y1="880.1" x2="94.7" y2="886.7" stroke="#000" stroke-width="1.75"/>
<text transform="translate(94.7 899.2) scale(1 1.06)" font-size="11.5" text-anchor="middle" font-weight="bold">48 h</text>
<line x1="148.1" y1="880.1" x2="148.1" y2="886.7" stroke="#000" stroke-width="1.75"/>
<text transform="translate(148.1 899.2) scale(1 1.06)" font-size="11.5" text-anchor="middle" font-weight="bold">72 h</text>
<line x1="201.8" y1="880.1" x2="201.8" y2="886.7" stroke="#000" stroke-width="1.75"/>
<text transform="translate(201.8 899.2) scale(1 1.06)" font-size="11.5" text-anchor="middle" font-weight="bold">96 h</text>
<line x1="255.2" y1="880.1" x2="255.2" y2="886.7" stroke="#000" stroke-width="1.75"/>
<text transform="translate(255.2 899.2) scale(1 1.06)" font-size="11.5" text-anchor="middle" font-weight="bold">120 h</text>
<text transform="translate(175.2 922.7) scale(1 1.06)" font-size="12.4" text-anchor="middle" font-weight="bold">Hours</text>
<text transform="translate(28.4 803.3) rotate(-90)" font-size="12.56" text-anchor="middle" font-weight="bold">Absorbance of OD 450</text>
<text transform="translate(73.9 747.2) scale(1 1.06)" font-size="14.3" font-weight="bold">A549</text>
<path d="M271.3 762.3H278.6V792.9H271.3" fill="none" stroke="#000" stroke-width="1.5" stroke-linejoin="miter"/>
<text transform="translate(289.44 785.35)" font-size="13.52" text-anchor="middle" font-weight="bold" letter-spacing="0.68">**</text>
<path d="M259.5 786.3H267V808.9H259.5" fill="none" stroke="#000" stroke-width="1.5" stroke-linejoin="miter"/>
<text transform="translate(277.74 805.65)" font-size="13.52" text-anchor="middle" font-weight="bold" letter-spacing="0.68">**</text>
<path d="M293.8 762.3H300.7V809.7H293.8" fill="none" stroke="#000" stroke-width="1.5" stroke-linejoin="miter"/>
<text transform="translate(311.64 793.15)" font-size="13.52" text-anchor="middle" font-weight="bold" letter-spacing="0.68">**</text>
<line x1="72.2" y1="696.7" x2="88.8" y2="696.7" stroke="#000" stroke-width="1.5"/>
<circle cx="80.5" cy="696.7" r="3.2" fill="#f80c10"/>
<text transform="translate(98.1 701.4) scale(1 1.06)" font-size="12.51" stroke="#000" stroke-width="0.2">siCtrl</text>
<line x1="154.5" y1="696.7" x2="171.1" y2="696.7" stroke="#000" stroke-width="1.5"/>
<rect x="159.7" y="693.6" width="6.2" height="6.2" fill="#c6c41e"/>
<text transform="translate(180.4 701.4) scale(1 1.06)" font-size="12.51" stroke="#000" stroke-width="0.2">siCircRABL2B</text>
<line x1="72.2" y1="713" x2="88.8" y2="713" stroke="#000" stroke-width="1.5"/>
<path d="M80.5 709.63L83.92 715.55L77.08 715.55Z" fill="#13821a"/>
<text transform="translate(98.1 717.7) scale(1 1.06)" font-size="12.51" stroke="#000" stroke-width="0.2">+BECN1</text>
<line x1="154.5" y1="713" x2="171.1" y2="713" stroke="#000" stroke-width="1.5"/>
<path d="M162.8 716.37L166.22 710.45L159.38 710.45Z" fill="#0b0bc4"/>
<text transform="translate(180.4 717.7) scale(1 1.06)" font-size="12.51" stroke="#000" stroke-width="0.2">+BECN1ΔCCD-myc</text>
<text transform="translate(22.6 691.7) scale(0.95 1)" font-size="30.4" font-weight="bold">B</text>
<path d="M420.4 848.25H426.4M423.4 848.25V858.75M420.4 858.75H426.4" fill="none" stroke="#c6c41e" stroke-width="1" stroke-linejoin="miter"/>
<path d="M475.2 807.62H481.2M478.2 807.62V834.91M475.2 834.91H481.2" fill="none" stroke="#c6c41e" stroke-width="1" stroke-linejoin="miter"/>
<path d="M529.7 778.32H535.7M532.7 778.32V822.42M529.7 822.42H535.7" fill="none" stroke="#c6c41e" stroke-width="1" stroke-linejoin="miter"/>
<path d="M584.4 765.3H590.4M587.4 765.3V791.55M584.4 791.55H590.4" fill="none" stroke="#c6c41e" stroke-width="1" stroke-linejoin="miter"/>
<path d="M420.4 849.3H426.4M423.4 849.3V859.8M420.4 859.8H426.4" fill="none" stroke="#0b0bc4" stroke-width="1" stroke-linejoin="miter"/>
<path d="M475.2 817.8H481.2M478.2 817.8V840.9M475.2 840.9H481.2" fill="none" stroke="#0b0bc4" stroke-width="1" stroke-linejoin="miter"/>
<path d="M529.7 798.38H535.7M532.7 798.38V824.62M529.7 824.62H535.7" fill="none" stroke="#0b0bc4" stroke-width="1" stroke-linejoin="miter"/>
<path d="M584.4 786.83H590.4M587.4 786.83V814.12M584.4 814.12H590.4" fill="none" stroke="#0b0bc4" stroke-width="1" stroke-linejoin="miter"/>
<path d="M420.4 850.35H426.4M423.4 850.35V860.85M420.4 860.85H426.4" fill="none" stroke="#13821a" stroke-width="1" stroke-linejoin="miter"/>
<path d="M475.2 836.81H481.2M478.2 836.81V855.71M475.2 855.71H481.2" fill="none" stroke="#13821a" stroke-width="1" stroke-linejoin="miter"/>
<path d="M529.7 823.58H535.7M532.7 823.58V842.48M529.7 842.48H535.7" fill="none" stroke="#13821a" stroke-width="1" stroke-linejoin="miter"/>
<path d="M584.4 813.81H590.4M587.4 813.81V837.43M584.4 837.43H590.4" fill="none" stroke="#13821a" stroke-width="1" stroke-linejoin="miter"/>
<path d="M420.4 850.35H426.4M423.4 850.35V858.75M420.4 858.75H426.4" fill="none" stroke="#f80c10" stroke-width="1" stroke-linejoin="miter"/>
<path d="M475.2 819.48H481.2M478.2 819.48V838.38M475.2 838.38H481.2" fill="none" stroke="#f80c10" stroke-width="1" stroke-linejoin="miter"/>
<path d="M529.7 795.33H535.7M532.7 795.33V825.78M529.7 825.78H535.7" fill="none" stroke="#f80c10" stroke-width="1" stroke-linejoin="miter"/>
<path d="M584.4 779.16H590.4M587.4 779.16V820.63M584.4 820.63H590.4" fill="none" stroke="#f80c10" stroke-width="1" stroke-linejoin="miter"/>
<path d="M423.4 853.5L478.2 820.22L532.7 801.42L587.4 777.9" fill="none" stroke="#000" stroke-width="1.5" stroke-linejoin="round"/>
<path d="M423.4 854.55L478.2 829.35L532.7 810.98L587.4 800.48" fill="none" stroke="#000" stroke-width="1.5" stroke-linejoin="round"/>
<path d="M423.4 855.6L478.2 846.25L532.7 834.08L587.4 825.88" fill="none" stroke="#000" stroke-width="1.5" stroke-linejoin="round"/>
<path d="M423.4 854.55L478.2 828.93L532.7 810.56L587.4 800.16" fill="none" stroke="#000" stroke-width="1.5" stroke-linejoin="round"/>
<rect x="419.93" y="850.03" width="6.94" height="6.94" fill="#c6c41e"/>
<rect x="474.73" y="816.74" width="6.94" height="6.94" fill="#c6c41e"/>
<rect x="529.23" y="797.95" width="6.94" height="6.94" fill="#c6c41e"/>
<rect x="583.93" y="774.43" width="6.94" height="6.94" fill="#c6c41e"/>
<path d="M423.4 857.68L426.58 852.17L420.22 852.17Z" fill="#0b0bc4"/>
<path d="M478.2 832.49L481.38 826.98L475.02 826.98Z" fill="#0b0bc4"/>
<path d="M532.7 814.11L535.88 808.6L529.52 808.6Z" fill="#0b0bc4"/>
<path d="M587.4 803.61L590.58 798.1L584.22 798.1Z" fill="#0b0bc4"/>
<path d="M423.4 852.47L426.58 857.98L420.22 857.98Z" fill="#13821a"/>
<path d="M478.2 843.12L481.38 848.63L475.02 848.63Z" fill="#13821a"/>
<path d="M532.7 830.94L535.88 836.45L529.52 836.45Z" fill="#13821a"/>
<path d="M587.4 822.75L590.58 828.26L584.22 828.26Z" fill="#13821a"/>
<circle cx="423.4" cy="854.55" r="3.46" fill="#f80c10"/>
<circle cx="478.2" cy="828.93" r="3.46" fill="#f80c10"/>
<circle cx="532.7" cy="810.56" r="3.46" fill="#f80c10"/>
<circle cx="587.4" cy="800.16" r="3.46" fill="#f80c10"/>
<line x1="386.9" y1="726.62" x2="386.9" y2="885.88" stroke="#000" stroke-width="1.75"/>
<line x1="386.02" y1="885" x2="624.3" y2="885" stroke="#000" stroke-width="1.75"/>
<line x1="379.9" y1="885" x2="386.9" y2="885" stroke="#000" stroke-width="1.75"/>
<text transform="translate(378.5 889.19) scale(1 0.99)" font-size="11.83" text-anchor="end" font-weight="bold">0.0</text>
<line x1="379.9" y1="832.5" x2="386.9" y2="832.5" stroke="#000" stroke-width="1.75"/>
<text transform="translate(378.5 836.69) scale(1 0.99)" font-size="11.83" text-anchor="end" font-weight="bold">0.5</text>
<line x1="379.9" y1="780" x2="386.9" y2="780" stroke="#000" stroke-width="1.75"/>
<text transform="translate(378.5 784.19) scale(1 0.99)" font-size="11.83" text-anchor="end" font-weight="bold">1.0</text>
<line x1="379.9" y1="727.5" x2="386.9" y2="727.5" stroke="#000" stroke-width="1.75"/>
<text transform="translate(378.5 731.69) scale(1 0.99)" font-size="11.83" text-anchor="end" font-weight="bold">1.5</text>
<line x1="423.4" y1="885" x2="423.4" y2="891.6" stroke="#000" stroke-width="1.75"/>
<text transform="translate(423.4 904.1) scale(1 1.06)" font-size="11.73" text-anchor="middle" font-weight="bold">48 h</text>
<line x1="478.2" y1="885" x2="478.2" y2="891.6" stroke="#000" stroke-width="1.75"/>
<text transform="translate(478.2 904.1) scale(1 1.06)" font-size="11.73" text-anchor="middle" font-weight="bold">72 h</text>
<line x1="532.7" y1="885" x2="532.7" y2="891.6" stroke="#000" stroke-width="1.75"/>
<text transform="translate(532.7 904.1) scale(1 1.06)" font-size="11.73" text-anchor="middle" font-weight="bold">96 h</text>
<line x1="587.4" y1="885" x2="587.4" y2="891.6" stroke="#000" stroke-width="1.75"/>
<text transform="translate(587.4 904.1) scale(1 1.06)" font-size="11.73" text-anchor="middle" font-weight="bold">120 h</text>
<text transform="translate(505.2 928) scale(1 1.06)" font-size="12.65" text-anchor="middle" font-weight="bold">Hours</text>
<text transform="translate(355.4 806) rotate(-90)" font-size="12.8" text-anchor="middle" font-weight="bold">Absorbance of OD 450</text>
<text transform="translate(399.1 746.8) scale(1 1.06)" font-size="14.3" font-weight="bold">H838</text>
<path d="M596.1 777.1H604.3V798.8H596.1" fill="none" stroke="#000" stroke-width="1.5" stroke-linejoin="miter"/>
<text transform="translate(611.2 795.25)" font-size="13.52" text-anchor="middle" font-weight="bold">*</text>
<path d="M596.1 801.6H604.3V824.9H596.1" fill="none" stroke="#000" stroke-width="1.5" stroke-linejoin="miter"/>
<text transform="translate(615.04 820.75)" font-size="13.52" text-anchor="middle" font-weight="bold" letter-spacing="0.68">**</text>
<path d="M620 777.1H627.8V825.7H620" fill="none" stroke="#000" stroke-width="1.5" stroke-linejoin="miter"/>
<text transform="translate(638.54 809.15)" font-size="13.52" text-anchor="middle" font-weight="bold" letter-spacing="0.68">**</text>
<line x1="398.2" y1="693.7" x2="414.8" y2="693.7" stroke="#000" stroke-width="1.5"/>
<circle cx="406.5" cy="693.7" r="3.2" fill="#f80c10"/>
<text transform="translate(424.4 698.6) scale(1 1.06)" font-size="13.05" stroke="#000" stroke-width="0.2">siCtrl</text>
<line x1="484.5" y1="693.7" x2="501.1" y2="693.7" stroke="#000" stroke-width="1.5"/>
<rect x="489.7" y="690.6" width="6.2" height="6.2" fill="#c6c41e"/>
<text transform="translate(510.4 698.6) scale(1 1.06)" font-size="13.05" stroke="#000" stroke-width="0.2">siCircRABL2B</text>
<line x1="398.2" y1="710.1" x2="414.8" y2="710.1" stroke="#000" stroke-width="1.5"/>
<path d="M406.5 706.73L409.92 712.65L403.08 712.65Z" fill="#13821a"/>
<text transform="translate(424.4 715) scale(1 1.06)" font-size="13.05" stroke="#000" stroke-width="0.2">+BECN1</text>
<line x1="484.5" y1="710.1" x2="501.1" y2="710.1" stroke="#000" stroke-width="1.5"/>
<path d="M492.8 713.47L496.22 707.55L489.38 707.55Z" fill="#0b0bc4"/>
<text transform="translate(510.4 715) scale(1 1.06)" font-size="13.05" stroke="#000" stroke-width="0.2">+BECN1ΔCCD-myc</text>
<text transform="translate(347.6 686.7) scale(0.95 1)" font-size="30.4" font-weight="bold">C</text>
<path d="M784.9 860.52H790.9M787.9 860.52V869.32M784.9 869.32H790.9" fill="none" stroke="#c6c41e" stroke-width="1" stroke-linejoin="miter"/>
<path d="M841.9 838.54H847.9M844.9 838.54V858.33M841.9 858.33H847.9" fill="none" stroke="#c6c41e" stroke-width="1" stroke-linejoin="miter"/>
<path d="M898.6 793.27H904.6M901.6 793.27V816.89M898.6 816.89H904.6" fill="none" stroke="#c6c41e" stroke-width="1" stroke-linejoin="miter"/>
<path d="M955.6 753.92H961.6M958.6 753.92V775.35M955.6 775.35H961.6" fill="none" stroke="#c6c41e" stroke-width="1" stroke-linejoin="miter"/>
<path d="M784.9 860.52H790.9M787.9 860.52V869.32M784.9 869.32H790.9" fill="none" stroke="#0b0bc4" stroke-width="1" stroke-linejoin="miter"/>
<path d="M841.9 847.34H847.9M844.9 847.34V858.33M841.9 858.33H847.9" fill="none" stroke="#0b0bc4" stroke-width="1" stroke-linejoin="miter"/>
<path d="M898.6 818.21H904.6M901.6 818.21V839.64M898.6 839.64H904.6" fill="none" stroke="#0b0bc4" stroke-width="1" stroke-linejoin="miter"/>
<path d="M955.6 787.66H961.6M958.6 787.66V809.09M955.6 809.09H961.6" fill="none" stroke="#0b0bc4" stroke-width="1" stroke-linejoin="miter"/>
<path d="M784.9 861.62H790.9M787.9 861.62V868.22M784.9 868.22H790.9" fill="none" stroke="#13821a" stroke-width="1" stroke-linejoin="miter"/>
<path d="M841.9 859.43H847.9M844.9 859.43V866.02M841.9 866.02H847.9" fill="none" stroke="#13821a" stroke-width="1" stroke-linejoin="miter"/>
<path d="M898.6 830.96H904.6M901.6 830.96V854.04M898.6 854.04H904.6" fill="none" stroke="#13821a" stroke-width="1" stroke-linejoin="miter"/>
<path d="M955.6 803.38H961.6M958.6 803.38V831.84M955.6 831.84H961.6" fill="none" stroke="#13821a" stroke-width="1" stroke-linejoin="miter"/>
<path d="M784.9 859.54H790.9M787.9 859.54V870.53M784.9 870.53H790.9" fill="none" stroke="#f80c10" stroke-width="1" stroke-linejoin="miter"/>
<path d="M841.9 845.36H847.9M844.9 845.36V857.45M841.9 857.45H847.9" fill="none" stroke="#f80c10" stroke-width="1" stroke-linejoin="miter"/>
<path d="M898.6 811.4H904.6M901.6 811.4V838.87M898.6 838.87H904.6" fill="none" stroke="#f80c10" stroke-width="1" stroke-linejoin="miter"/>
<path d="M955.6 772.39H961.6M958.6 772.39V808.65M955.6 808.65H961.6" fill="none" stroke="#f80c10" stroke-width="1" stroke-linejoin="miter"/>
<path d="M787.9 864.92L844.9 848.44L901.6 810.3L958.6 772.06" fill="none" stroke="#000" stroke-width="1.5" stroke-linejoin="round"/>
<path d="M787.9 864.92L844.9 852.83L901.6 829.75L958.6 797.55" fill="none" stroke="#000" stroke-width="1.5" stroke-linejoin="round"/>
<path d="M787.9 864.92L844.9 862.72L901.6 843.6L958.6 818.43" fill="none" stroke="#000" stroke-width="1.5" stroke-linejoin="round"/>
<path d="M787.9 865.03L844.9 851.4L901.6 825.69L958.6 791.07" fill="none" stroke="#000" stroke-width="1.5" stroke-linejoin="round"/>
<rect x="784.43" y="861.45" width="6.94" height="6.94" fill="#c6c41e"/>
<rect x="841.43" y="844.96" width="6.94" height="6.94" fill="#c6c41e"/>
<rect x="898.13" y="806.83" width="6.94" height="6.94" fill="#c6c41e"/>
<rect x="955.13" y="768.58" width="6.94" height="6.94" fill="#c6c41e"/>
<path d="M787.9 868.06L791.08 862.55L784.72 862.55Z" fill="#0b0bc4"/>
<path d="M844.9 855.97L848.08 850.46L841.72 850.46Z" fill="#0b0bc4"/>
<path d="M901.6 832.89L904.78 827.38L898.42 827.38Z" fill="#0b0bc4"/>
<path d="M958.6 800.69L961.78 795.18L955.42 795.18Z" fill="#0b0bc4"/>
<path d="M787.9 861.79L791.08 867.3L784.72 867.3Z" fill="#13821a"/>
<path d="M844.9 859.59L848.08 865.1L841.72 865.1Z" fill="#13821a"/>
<path d="M901.6 840.47L904.78 845.98L898.42 845.98Z" fill="#13821a"/>
<path d="M958.6 815.3L961.78 820.81L955.42 820.81Z" fill="#13821a"/>
<circle cx="787.9" cy="865.03" r="3.46" fill="#f80c10"/>
<circle cx="844.9" cy="851.4" r="3.46" fill="#f80c10"/>
<circle cx="901.6" cy="825.69" r="3.46" fill="#f80c10"/>
<circle cx="958.6" cy="791.07" r="3.46" fill="#f80c10"/>
<line x1="750.2" y1="722.27" x2="750.2" y2="888.88" stroke="#000" stroke-width="1.75"/>
<line x1="749.33" y1="888" x2="997.4" y2="888" stroke="#000" stroke-width="1.75"/>
<line x1="743.2" y1="888" x2="750.2" y2="888" stroke="#000" stroke-width="1.75"/>
<text transform="translate(741.8 892.31) scale(1 0.99)" font-size="12.18" text-anchor="end" font-weight="bold">0.0</text>
<line x1="743.2" y1="833.05" x2="750.2" y2="833.05" stroke="#000" stroke-width="1.75"/>
<text transform="translate(741.8 837.36) scale(1 0.99)" font-size="12.18" text-anchor="end" font-weight="bold">0.5</text>
<line x1="743.2" y1="778.1" x2="750.2" y2="778.1" stroke="#000" stroke-width="1.75"/>
<text transform="translate(741.8 782.41) scale(1 0.99)" font-size="12.18" text-anchor="end" font-weight="bold">1.0</text>
<line x1="743.2" y1="723.15" x2="750.2" y2="723.15" stroke="#000" stroke-width="1.75"/>
<text transform="translate(741.8 727.46) scale(1 0.99)" font-size="12.18" text-anchor="end" font-weight="bold">1.5</text>
<line x1="787.9" y1="888" x2="787.9" y2="894.6" stroke="#000" stroke-width="1.75"/>
<text transform="translate(787.9 907.6) scale(1 1.06)" font-size="12.08" text-anchor="middle" font-weight="bold">48 h</text>
<line x1="844.9" y1="888" x2="844.9" y2="894.6" stroke="#000" stroke-width="1.75"/>
<text transform="translate(844.9 907.6) scale(1 1.06)" font-size="12.08" text-anchor="middle" font-weight="bold">72 h</text>
<line x1="901.6" y1="888" x2="901.6" y2="894.6" stroke="#000" stroke-width="1.75"/>
<text transform="translate(901.6 907.6) scale(1 1.06)" font-size="12.08" text-anchor="middle" font-weight="bold">96 h</text>
<line x1="958.6" y1="888" x2="958.6" y2="894.6" stroke="#000" stroke-width="1.75"/>
<text transform="translate(958.6 907.6) scale(1 1.06)" font-size="12.08" text-anchor="middle" font-weight="bold">120 h</text>
<text transform="translate(873.3 932.6) scale(1 1.06)" font-size="13.02" text-anchor="middle" font-weight="bold">Hours</text>
<text transform="translate(700.4 805.6) rotate(-90)" font-size="13.4" text-anchor="middle" font-weight="bold">Absorbance of OD 450</text>
<text transform="translate(761.5 746.8) scale(1 1.06)" font-size="14.3" font-weight="bold">H1299</text>
<path d="M965.6 771.5H973.1V791H965.6" fill="none" stroke="#000" stroke-width="1.5" stroke-linejoin="miter"/>
<text transform="translate(980.7 788.75)" font-size="13.52" text-anchor="middle" font-weight="bold">*</text>
<path d="M965.6 796.2H973.1V818.8H965.6" fill="none" stroke="#000" stroke-width="1.5" stroke-linejoin="miter"/>
<text transform="translate(984.14 815.25)" font-size="13.52" text-anchor="middle" font-weight="bold" letter-spacing="0.68">**</text>
<path d="M987.3 772H995.1V819.6H987.3" fill="none" stroke="#000" stroke-width="1.5" stroke-linejoin="miter"/>
<text transform="translate(1006.74 803.35)" font-size="13.52" text-anchor="middle" font-weight="bold" letter-spacing="0.68">**</text>
<line x1="769.5" y1="698" x2="786.1" y2="698" stroke="#000" stroke-width="1.5"/>
<circle cx="777.8" cy="698" r="3.2" fill="#f80c10"/>
<text transform="translate(796.4 703.14) scale(1 1.06)" font-size="13.69" stroke="#000" stroke-width="0.2">siCtrl</text>
<line x1="853.9" y1="698" x2="870.5" y2="698" stroke="#000" stroke-width="1.5"/>
<rect x="859.1" y="694.9" width="6.2" height="6.2" fill="#c6c41e"/>
<text transform="translate(881.4 703.14) scale(1 1.06)" font-size="13.69" stroke="#000" stroke-width="0.2">siCircRABL2B</text>
<line x1="769.5" y1="714.7" x2="786.1" y2="714.7" stroke="#000" stroke-width="1.5"/>
<path d="M777.8 711.33L781.22 717.25L774.38 717.25Z" fill="#13821a"/>
<text transform="translate(796.4 719.84) scale(1 1.06)" font-size="13.69" stroke="#000" stroke-width="0.2">+BECN1</text>
<line x1="853.9" y1="714.7" x2="870.5" y2="714.7" stroke="#000" stroke-width="1.5"/>
<path d="M862.2 718.07L865.62 712.15L858.78 712.15Z" fill="#0b0bc4"/>
<text transform="translate(881.4 719.84) scale(1 1.06)" font-size="13.69" stroke="#000" stroke-width="0.2">+BECN1ΔCCD-myc</text>
<text transform="translate(694.4 686.2) scale(0.95 1)" font-size="30.4" font-weight="bold">D</text>
<text transform="translate(47.4 962.2) scale(0.95 1)" font-size="30.4" font-weight="bold">E</text>
<rect x="128.2" y="1088.03" width="9.6" height="66.47" fill="#fff" stroke="#000" stroke-width="2.4"/>
<rect x="146.6" y="1057.22" width="9.6" height="97.28" fill="#fff" stroke="#000" stroke-width="2.4"/>
<rect x="164.8" y="1100.64" width="9.6" height="53.86" fill="#fff" stroke="#000" stroke-width="2.4"/>
<rect x="183" y="1082.19" width="9.6" height="72.31" fill="#fff" stroke="#000" stroke-width="2.4"/>
<rect x="213.4" y="1110.99" width="9.6" height="43.51" fill="#fff" stroke="#000" stroke-width="2.4"/>
<rect x="231.8" y="1091.29" width="9.6" height="63.21" fill="#fff" stroke="#000" stroke-width="2.4"/>
<rect x="250" y="1135.21" width="9.6" height="19.29" fill="#fff" stroke="#000" stroke-width="2.4"/>
<rect x="268.4" y="1110.99" width="9.6" height="43.51" fill="#fff" stroke="#000" stroke-width="2.4"/>
<rect x="299" y="1104.82" width="9.6" height="49.68" fill="#fff" stroke="#000" stroke-width="2.4"/>
<rect x="317.3" y="1090.2" width="9.6" height="64.3" fill="#fff" stroke="#000" stroke-width="2.4"/>
<rect x="335.4" y="1128.53" width="9.6" height="25.97" fill="#fff" stroke="#000" stroke-width="2.4"/>
<rect x="353.7" y="1110.99" width="9.6" height="43.51" fill="#fff" stroke="#000" stroke-width="2.4"/>
<line x1="120.8" y1="986.6" x2="120.8" y2="1155.4" stroke="#000" stroke-width="1.8"/>
<line x1="119.9" y1="1154.5" x2="371.7" y2="1154.5" stroke="#000" stroke-width="1.8"/>
<line x1="113.8" y1="1154.5" x2="120.8" y2="1154.5" stroke="#000" stroke-width="1.8"/>
<text transform="translate(111.6 1158.92) scale(1 1.02)" font-size="12.2" text-anchor="end" font-weight="bold">0</text>
<line x1="113.8" y1="1112.75" x2="120.8" y2="1112.75" stroke="#000" stroke-width="1.8"/>
<text transform="translate(111.6 1117.17) scale(1 1.02)" font-size="12.2" text-anchor="end" font-weight="bold">50</text>
<line x1="113.8" y1="1071" x2="120.8" y2="1071" stroke="#000" stroke-width="1.8"/>
<text transform="translate(111.6 1075.42) scale(1 1.02)" font-size="12.2" text-anchor="end" font-weight="bold">100</text>
<line x1="113.8" y1="1029.25" x2="120.8" y2="1029.25" stroke="#000" stroke-width="1.8"/>
<text transform="translate(111.6 1033.67) scale(1 1.02)" font-size="12.2" text-anchor="end" font-weight="bold">150</text>
<line x1="113.8" y1="987.5" x2="120.8" y2="987.5" stroke="#000" stroke-width="1.8"/>
<text transform="translate(111.6 991.92) scale(1 1.02)" font-size="12.2" text-anchor="end" font-weight="bold">200</text>
<line x1="160" y1="1154.5" x2="160" y2="1161.3" stroke="#000" stroke-width="1.8"/>
<text transform="translate(160 1174.5) scale(1 1.06)" font-size="12.2" text-anchor="middle" font-weight="bold">A549</text>
<line x1="245.5" y1="1154.5" x2="245.5" y2="1161.3" stroke="#000" stroke-width="1.8"/>
<text transform="translate(245.5 1174.5) scale(1 1.06)" font-size="12.2" text-anchor="middle" font-weight="bold">H838</text>
<line x1="331" y1="1154.5" x2="331" y2="1161.3" stroke="#000" stroke-width="1.8"/>
<text transform="translate(331 1174.5) scale(1 1.06)" font-size="12.2" text-anchor="middle" font-weight="bold">H1299</text>
<text transform="translate(84 1071) rotate(-90)" font-size="13.5" text-anchor="middle" font-weight="bold">Number of colonies</text>
<path d="M130.2 1071.84H135.8M133 1071.84V1101.89M130.2 1101.89H135.8" fill="none" stroke="#f80c10" stroke-width="1.1" stroke-linejoin="miter"/>
<circle cx="133" cy="1061.4" r="2.82" fill="#f80c10"/>
<circle cx="133" cy="1072.25" r="2.82" fill="#f80c10"/>
<circle cx="129.2" cy="1078.1" r="2.82" fill="#f80c10"/>
<circle cx="136.7" cy="1080.6" r="2.82" fill="#f80c10"/>
<circle cx="133" cy="1084.36" r="2.82" fill="#f80c10"/>
<circle cx="133" cy="1095.21" r="2.82" fill="#f80c10"/>
<circle cx="133" cy="1103.57" r="2.82" fill="#f80c10"/>
<circle cx="129.2" cy="1106.07" r="2.82" fill="#f80c10"/>
<circle cx="136.7" cy="1105.23" r="2.82" fill="#f80c10"/>
<path d="M148.6 1035.93H154.2M151.4 1035.93V1076.85M148.6 1076.85H154.2" fill="none" stroke="#c6c41e" stroke-width="1.1" stroke-linejoin="miter"/>
<rect x="144.87" y="1027.36" width="5.46" height="5.46" fill="#c6c41e"/>
<rect x="148.67" y="1029.86" width="5.46" height="5.46" fill="#c6c41e"/>
<rect x="148.67" y="1039.88" width="5.46" height="5.46" fill="#c6c41e"/>
<rect x="144.87" y="1045.31" width="5.46" height="5.46" fill="#c6c41e"/>
<rect x="148.67" y="1049.48" width="5.46" height="5.46" fill="#c6c41e"/>
<rect x="152.37" y="1049.48" width="5.46" height="5.46" fill="#c6c41e"/>
<rect x="148.67" y="1075.37" width="5.46" height="5.46" fill="#c6c41e"/>
<rect x="144.87" y="1083.72" width="5.46" height="5.46" fill="#c6c41e"/>
<rect x="152.37" y="1081.21" width="5.46" height="5.46" fill="#c6c41e"/>
<path d="M166.8 1089.37H172.4M169.6 1089.37V1110.24M166.8 1110.24H172.4" fill="none" stroke="#13821a" stroke-width="1.1" stroke-linejoin="miter"/>
<path d="M169.6 1081.46L172.55 1086.56L166.65 1086.56Z" fill="#13821a"/>
<path d="M165.8 1085.63L168.75 1090.74L162.85 1090.74Z" fill="#13821a"/>
<path d="M173.3 1090.64L176.25 1095.75L170.35 1095.75Z" fill="#13821a"/>
<path d="M165.8 1091.89L168.75 1097L162.85 1097Z" fill="#13821a"/>
<path d="M169.6 1096.49L172.55 1101.59L166.65 1101.59Z" fill="#13821a"/>
<path d="M173.3 1097.32L176.25 1102.42L170.35 1102.42Z" fill="#13821a"/>
<path d="M169.6 1101.5L172.55 1106.6L166.65 1106.6Z" fill="#13821a"/>
<path d="M169.6 1105.67L172.55 1110.78L166.65 1110.78Z" fill="#13821a"/>
<path d="M165.8 1109.85L168.75 1114.95L162.85 1114.95Z" fill="#13821a"/>
<path d="M173.3 1109.01L176.25 1114.12L170.35 1114.12Z" fill="#13821a"/>
<path d="M185 1065.99H190.6M187.8 1065.99V1096.05M185 1096.05H190.6" fill="none" stroke="#0b0bc4" stroke-width="1.1" stroke-linejoin="miter"/>
<path d="M187.8 1055.95L190.75 1050.85L184.85 1050.85Z" fill="#0b0bc4"/>
<path d="M187.8 1063.05L190.75 1057.94L184.85 1057.94Z" fill="#0b0bc4"/>
<path d="M187.8 1074.74L190.75 1069.63L184.85 1069.63Z" fill="#0b0bc4"/>
<path d="M184 1088.1L186.95 1082.99L181.05 1082.99Z" fill="#0b0bc4"/>
<path d="M191.5 1087.26L194.45 1082.16L188.55 1082.16Z" fill="#0b0bc4"/>
<path d="M184 1093.11L186.95 1088L181.05 1088Z" fill="#0b0bc4"/>
<path d="M187.8 1093.11L190.75 1088L184.85 1088Z" fill="#0b0bc4"/>
<path d="M191.5 1097.28L194.45 1092.18L188.55 1092.18Z" fill="#0b0bc4"/>
<path d="M184 1101.46L186.95 1096.36L181.05 1096.36Z" fill="#0b0bc4"/>
<path d="M215.4 1100.22H221M218.2 1100.22V1120.27M215.4 1120.27H221" fill="none" stroke="#f80c10" stroke-width="1.1" stroke-linejoin="miter"/>
<circle cx="214.6" cy="1100.22" r="2.82" fill="#f80c10"/>
<circle cx="221.6" cy="1098.14" r="2.82" fill="#f80c10"/>
<circle cx="218.2" cy="1104.4" r="2.82" fill="#f80c10"/>
<circle cx="222.2" cy="1103.57" r="2.82" fill="#f80c10"/>
<circle cx="214.6" cy="1108.58" r="2.82" fill="#f80c10"/>
<circle cx="218.2" cy="1108.58" r="2.82" fill="#f80c10"/>
<circle cx="218.2" cy="1118.18" r="2.82" fill="#f80c10"/>
<circle cx="221.6" cy="1122.77" r="2.82" fill="#f80c10"/>
<circle cx="214.6" cy="1126.11" r="2.82" fill="#f80c10"/>
<path d="M233.8 1070.16H239.4M236.6 1070.16V1110.24M233.8 1110.24H239.4" fill="none" stroke="#c6c41e" stroke-width="1.1" stroke-linejoin="miter"/>
<rect x="233.87" y="1062.43" width="5.46" height="5.46" fill="#c6c41e"/>
<rect x="233.87" y="1068.27" width="5.46" height="5.46" fill="#c6c41e"/>
<rect x="237.67" y="1067.85" width="5.46" height="5.46" fill="#c6c41e"/>
<rect x="230.07" y="1088.31" width="5.46" height="5.46" fill="#c6c41e"/>
<rect x="233.87" y="1089.15" width="5.46" height="5.46" fill="#c6c41e"/>
<rect x="237.67" y="1100.84" width="5.46" height="5.46" fill="#c6c41e"/>
<rect x="230.07" y="1105.85" width="5.46" height="5.46" fill="#c6c41e"/>
<rect x="233.87" y="1105.01" width="5.46" height="5.46" fill="#c6c41e"/>
<rect x="237.67" y="1106.68" width="5.46" height="5.46" fill="#c6c41e"/>
<path d="M252 1131.12H257.6M254.8 1131.12V1137.8M252 1137.8H257.6" fill="none" stroke="#13821a" stroke-width="1.1" stroke-linejoin="miter"/>
<path d="M252.8 1128.22L255.75 1133.32L249.85 1133.32Z" fill="#13821a"/>
<path d="M254.8 1128.63L257.75 1133.74L251.85 1133.74Z" fill="#13821a"/>
<path d="M256.8 1128.22L259.75 1133.32L253.85 1133.32Z" fill="#13821a"/>
<path d="M251.8 1130.72L254.75 1135.83L248.85 1135.83Z" fill="#13821a"/>
<path d="M257.8 1130.3L260.75 1135.41L254.85 1135.41Z" fill="#13821a"/>
<path d="M254.8 1131.56L257.75 1136.66L251.85 1136.66Z" fill="#13821a"/>
<path d="M252.8 1133.23L255.75 1138.33L249.85 1138.33Z" fill="#13821a"/>
<path d="M256.8 1133.64L259.75 1138.75L253.85 1138.75Z" fill="#13821a"/>
<path d="M254.8 1135.73L257.75 1140.84L251.85 1140.84Z" fill="#13821a"/>
<path d="M270.4 1101.06H276M273.2 1101.06V1119.43M270.4 1119.43H276" fill="none" stroke="#0b0bc4" stroke-width="1.1" stroke-linejoin="miter"/>
<path d="M277 1101.46L279.95 1096.36L274.05 1096.36Z" fill="#0b0bc4"/>
<path d="M273.2 1104.8L276.15 1099.69L270.25 1099.69Z" fill="#0b0bc4"/>
<path d="M269.4 1111.48L272.35 1106.38L266.45 1106.38Z" fill="#0b0bc4"/>
<path d="M277 1108.97L279.95 1103.87L274.05 1103.87Z" fill="#0b0bc4"/>
<path d="M273.2 1113.98L276.15 1108.88L270.25 1108.88Z" fill="#0b0bc4"/>
<path d="M269.4 1118.16L272.35 1113.06L266.45 1113.06Z" fill="#0b0bc4"/>
<path d="M277 1117.32L279.95 1112.22L274.05 1112.22Z" fill="#0b0bc4"/>
<path d="M273.2 1124L276.15 1118.9L270.25 1118.9Z" fill="#0b0bc4"/>
<path d="M273.2 1129.01L276.15 1123.91L270.25 1123.91Z" fill="#0b0bc4"/>
<path d="M301 1094.38H306.6M303.8 1094.38V1113.59M301 1113.59H306.6" fill="none" stroke="#f80c10" stroke-width="1.1" stroke-linejoin="miter"/>
<circle cx="300.2" cy="1093.55" r="2.82" fill="#f80c10"/>
<circle cx="303.8" cy="1095.21" r="2.82" fill="#f80c10"/>
<circle cx="307.6" cy="1092.71" r="2.82" fill="#f80c10"/>
<circle cx="303.8" cy="1102.73" r="2.82" fill="#f80c10"/>
<circle cx="303.8" cy="1104.4" r="2.82" fill="#f80c10"/>
<circle cx="303.8" cy="1112.75" r="2.82" fill="#f80c10"/>
<circle cx="302.8" cy="1116.09" r="2.82" fill="#f80c10"/>
<circle cx="305.3" cy="1111.08" r="2.82" fill="#f80c10"/>
<circle cx="302.3" cy="1123.61" r="2.82" fill="#f80c10"/>
<path d="M319.3 1077.68H324.9M322.1 1077.68V1101.06M319.3 1101.06H324.9" fill="none" stroke="#c6c41e" stroke-width="1.1" stroke-linejoin="miter"/>
<rect x="323.17" y="1065.77" width="5.46" height="5.46" fill="#c6c41e"/>
<rect x="319.37" y="1069.11" width="5.46" height="5.46" fill="#c6c41e"/>
<rect x="319.37" y="1079.13" width="5.46" height="5.46" fill="#c6c41e"/>
<rect x="315.77" y="1084.14" width="5.46" height="5.46" fill="#c6c41e"/>
<rect x="319.37" y="1085.81" width="5.46" height="5.46" fill="#c6c41e"/>
<rect x="315.77" y="1089.98" width="5.46" height="5.46" fill="#c6c41e"/>
<rect x="319.37" y="1101.25" width="5.46" height="5.46" fill="#c6c41e"/>
<rect x="323.17" y="1102.51" width="5.46" height="5.46" fill="#c6c41e"/>
<rect x="319.37" y="1106.68" width="5.46" height="5.46" fill="#c6c41e"/>
<path d="M337.4 1122.77H343M340.2 1122.77V1132.79M337.4 1132.79H343" fill="none" stroke="#13821a" stroke-width="1.1" stroke-linejoin="miter"/>
<path d="M341 1117.36L343.95 1122.47L338.05 1122.47Z" fill="#13821a"/>
<path d="M339.2 1120.7L342.15 1125.81L336.25 1125.81Z" fill="#13821a"/>
<path d="M342.2 1121.54L345.15 1126.64L339.25 1126.64Z" fill="#13821a"/>
<path d="M336.4 1124.04L339.35 1129.14L333.45 1129.14Z" fill="#13821a"/>
<path d="M343.2 1124.88L346.15 1129.98L340.25 1129.98Z" fill="#13821a"/>
<path d="M340.2 1126.55L343.15 1131.65L337.25 1131.65Z" fill="#13821a"/>
<path d="M339.2 1129.89L342.15 1134.99L336.25 1134.99Z" fill="#13821a"/>
<path d="M341.7 1131.56L344.65 1136.66L338.75 1136.66Z" fill="#13821a"/>
<path d="M339.2 1136.57L342.15 1141.67L336.25 1141.67Z" fill="#13821a"/>
<path d="M355.7 1100.22H361.3M358.5 1100.22V1120.27M355.7 1120.27H361.3" fill="none" stroke="#0b0bc4" stroke-width="1.1" stroke-linejoin="miter"/>
<path d="M362.3 1098.95L365.25 1093.85L359.35 1093.85Z" fill="#0b0bc4"/>
<path d="M358.5 1100.62L361.45 1095.52L355.55 1095.52Z" fill="#0b0bc4"/>
<path d="M354.7 1106.47L357.65 1101.37L351.75 1101.37Z" fill="#0b0bc4"/>
<path d="M362.3 1107.3L365.25 1102.2L359.35 1102.2Z" fill="#0b0bc4"/>
<path d="M358.5 1112.31L361.45 1107.21L355.55 1107.21Z" fill="#0b0bc4"/>
<path d="M354.7 1117.32L357.65 1112.22L351.75 1112.22Z" fill="#0b0bc4"/>
<path d="M362.3 1118.16L365.25 1113.06L359.35 1113.06Z" fill="#0b0bc4"/>
<path d="M358.5 1122.33L361.45 1117.23L355.55 1117.23Z" fill="#0b0bc4"/>
<path d="M354.7 1123.17L357.65 1118.07L351.75 1118.07Z" fill="#0b0bc4"/>
<path d="M133.8 1019.2V1010.8H147.2V1019.2" fill="none" stroke="#000" stroke-width="1.7" stroke-linejoin="miter"/>
<text transform="translate(139.57 1008.12)" font-size="14.93" text-anchor="middle" font-weight="bold" letter-spacing="0.75">**</text>
<path d="M149.2 1019.2V1010.8H166.7V1019.2" fill="none" stroke="#000" stroke-width="1.7" stroke-linejoin="miter"/>
<text transform="translate(156.67 1008.12)" font-size="14.93" text-anchor="middle" font-weight="bold" letter-spacing="0.75">**</text>
<path d="M169.5 1048.3V1040.5H186.7V1048.3" fill="none" stroke="#000" stroke-width="1.7" stroke-linejoin="miter"/>
<text transform="translate(176.67 1037.62)" font-size="14.93" text-anchor="middle" font-weight="bold" letter-spacing="0.75">**</text>
<path d="M219.5 1059.5V1051.7H234.7V1059.5" fill="none" stroke="#000" stroke-width="1.7" stroke-linejoin="miter"/>
<text transform="translate(226.2 1048.92)" font-size="14.93" text-anchor="middle" font-weight="bold">*</text>
<path d="M236.3 1059.5V1051.7H255V1059.5" fill="none" stroke="#000" stroke-width="1.7" stroke-linejoin="miter"/>
<text transform="translate(244.17 1048.92)" font-size="14.93" text-anchor="middle" font-weight="bold" letter-spacing="0.75">**</text>
<path d="M254.7 1089.7V1081.7H271.7V1089.7" fill="none" stroke="#000" stroke-width="1.7" stroke-linejoin="miter"/>
<text transform="translate(262.07 1078.42)" font-size="14.93" text-anchor="middle" font-weight="bold" letter-spacing="0.75">**</text>
<path d="M302.8 1067.5V1059.7H319.2V1067.5" fill="none" stroke="#000" stroke-width="1.7" stroke-linejoin="miter"/>
<text transform="translate(310 1056.42)" font-size="14.93" text-anchor="middle" font-weight="bold">*</text>
<path d="M321.7 1063.3V1055.8H341.7V1063.3" fill="none" stroke="#000" stroke-width="1.7" stroke-linejoin="miter"/>
<text transform="translate(330.37 1052.72)" font-size="14.93" text-anchor="middle" font-weight="bold" letter-spacing="0.75">**</text>
<path d="M341.2 1095V1087H357.5V1095" fill="none" stroke="#000" stroke-width="1.7" stroke-linejoin="miter"/>
<text transform="translate(347.87 1084.42)" font-size="14.93" text-anchor="middle" font-weight="bold" letter-spacing="0.75">**</text>
<circle cx="117.6" cy="962.5" r="2.82" fill="#f80c10"/>
<text transform="translate(136.5 967.36) scale(1 1.06)" font-size="13.7" stroke="#000" stroke-width="0.2">siCtrl</text>
<rect x="180.37" y="959.77" width="5.46" height="5.46" fill="#c6c41e"/>
<text transform="translate(202 967.36) scale(1 1.06)" font-size="13.7" stroke="#000" stroke-width="0.2">siCircRABL2B</text>
<path d="M303.9 959.6L306.85 964.7L300.95 964.7Z" fill="#13821a"/>
<text transform="translate(322.4 967.36) scale(1 1.06)" font-size="13.7" stroke="#000" stroke-width="0.2">+BECN1</text>
<path d="M169.4 984.7L172.35 979.6L166.45 979.6Z" fill="#0b0bc4"/>
<text transform="translate(188.2 986.66) scale(1 1.06)" font-size="13.7" stroke="#000" stroke-width="0.2">+BECN1ΔCCD-myc</text>
<rect x="514.9" y="1073.29" width="24.6" height="82.51" fill="#fff" stroke="#000" stroke-width="2.6"/>
<rect x="555.7" y="1043.18" width="24.6" height="112.62" fill="#fff" stroke="#000" stroke-width="2.6"/>
<rect x="596.5" y="1116.12" width="24.6" height="39.68" fill="#fff" stroke="#000" stroke-width="2.6"/>
<rect x="637.3" y="1084.24" width="24.6" height="71.56" fill="#fff" stroke="#000" stroke-width="2.6"/>
<line x1="500.1" y1="978.1" x2="500.1" y2="1156.8" stroke="#000" stroke-width="2"/>
<line x1="499.1" y1="1155.8" x2="677.8" y2="1155.8" stroke="#000" stroke-width="2"/>
<line x1="492.5" y1="1155.8" x2="500.1" y2="1155.8" stroke="#000" stroke-width="2"/>
<text transform="translate(490.5 1160.5) scale(1 0.98)" font-size="13.2" text-anchor="end" font-weight="bold">0</text>
<line x1="492.5" y1="1120.46" x2="500.1" y2="1120.46" stroke="#000" stroke-width="2"/>
<text transform="translate(490.5 1125.16) scale(1 0.98)" font-size="13.2" text-anchor="end" font-weight="bold">50</text>
<line x1="492.5" y1="1085.12" x2="500.1" y2="1085.12" stroke="#000" stroke-width="2"/>
<text transform="translate(490.5 1089.82) scale(1 0.98)" font-size="13.2" text-anchor="end" font-weight="bold">100</text>
<line x1="492.5" y1="1049.78" x2="500.1" y2="1049.78" stroke="#000" stroke-width="2"/>
<text transform="translate(490.5 1054.48) scale(1 0.98)" font-size="13.2" text-anchor="end" font-weight="bold">150</text>
<line x1="492.5" y1="1014.44" x2="500.1" y2="1014.44" stroke="#000" stroke-width="2"/>
<text transform="translate(490.5 1019.14) scale(1 0.98)" font-size="13.2" text-anchor="end" font-weight="bold">200</text>
<line x1="492.5" y1="979.1" x2="500.1" y2="979.1" stroke="#000" stroke-width="2"/>
<text transform="translate(490.5 983.8) scale(1 0.98)" font-size="13.2" text-anchor="end" font-weight="bold">250</text>
<line x1="526.9" y1="1155.8" x2="526.9" y2="1162.8" stroke="#000" stroke-width="2"/>
<text transform="translate(532.5 1174) rotate(-45)" font-size="13.4" text-anchor="end" font-weight="bold">siCtrl</text>
<line x1="567.6" y1="1155.8" x2="567.6" y2="1162.8" stroke="#000" stroke-width="2"/>
<text transform="translate(573.2 1174) rotate(-45)" font-size="13.4" text-anchor="end" font-weight="bold">siCircRABL2B</text>
<line x1="608.4" y1="1155.8" x2="608.4" y2="1162.8" stroke="#000" stroke-width="2"/>
<text transform="translate(614 1174) rotate(-45)" font-size="13.4" text-anchor="end" font-weight="bold">+BECN1</text>
<line x1="649.7" y1="1155.8" x2="649.7" y2="1162.8" stroke="#000" stroke-width="2"/>
<text transform="translate(655.3 1174) rotate(-45)" font-size="13.4" text-anchor="end" font-weight="bold">+BECN1ΔCCD-myc</text>
<text transform="translate(460.4 1069.6) rotate(-90)" font-size="14.6" text-anchor="middle" font-weight="bold">Invasive cells per field</text>
<path d="M521.1 1053.6H533.7M527.4 1053.6V1090.07M521.1 1090.07H533.7" fill="none" stroke="#f80c10" stroke-width="1.1" stroke-linejoin="miter"/>
<circle cx="517.26" cy="1045.89" r="3.46" fill="#f80c10"/>
<circle cx="536.89" cy="1049.78" r="3.46" fill="#f80c10"/>
<circle cx="527.2" cy="1052.96" r="3.46" fill="#f80c10"/>
<circle cx="517.26" cy="1074.16" r="3.46" fill="#f80c10"/>
<circle cx="536.89" cy="1071.34" r="3.46" fill="#f80c10"/>
<circle cx="527.2" cy="1082.29" r="3.46" fill="#f80c10"/>
<circle cx="536.89" cy="1083" r="3.46" fill="#f80c10"/>
<circle cx="517.26" cy="1094.31" r="3.46" fill="#f80c10"/>
<circle cx="536.89" cy="1093.95" r="3.46" fill="#f80c10"/>
<path d="M561.9 1014.79H574.5M568.2 1014.79V1068.16M561.9 1068.16H574.5" fill="none" stroke="#c6c41e" stroke-width="1.1" stroke-linejoin="miter"/>
<rect x="564.65" y="1005.44" width="6.7" height="6.7" fill="#c6c41e"/>
<rect x="574.85" y="1004.02" width="6.7" height="6.7" fill="#c6c41e"/>
<rect x="564.65" y="1017.81" width="6.7" height="6.7" fill="#c6c41e"/>
<rect x="564.65" y="1027.35" width="6.7" height="6.7" fill="#c6c41e"/>
<rect x="554.71" y="1045.02" width="6.7" height="6.7" fill="#c6c41e"/>
<rect x="574.85" y="1045.02" width="6.7" height="6.7" fill="#c6c41e"/>
<rect x="564.65" y="1051.03" width="6.7" height="6.7" fill="#c6c41e"/>
<rect x="564.65" y="1064.1" width="6.7" height="6.7" fill="#c6c41e"/>
<rect x="564.65" y="1082.48" width="6.7" height="6.7" fill="#c6c41e"/>
<path d="M602.7 1106.61H615.3M609 1106.61V1123.08M602.7 1123.08H615.3" fill="none" stroke="#13821a" stroke-width="1.1" stroke-linejoin="miter"/>
<path d="M605.23 1099.23L608.85 1105.49L601.61 1105.49Z" fill="#13821a"/>
<path d="M612.11 1103.82L615.73 1110.08L608.5 1110.08Z" fill="#13821a"/>
<path d="M619 1103.11L622.61 1109.38L615.38 1109.38Z" fill="#13821a"/>
<path d="M605.23 1109.47L608.85 1115.74L601.61 1115.74Z" fill="#13821a"/>
<path d="M612.11 1111.59L615.73 1117.86L608.5 1117.86Z" fill="#13821a"/>
<path d="M598.6 1116.54L602.22 1122.81L594.99 1122.81Z" fill="#13821a"/>
<path d="M619 1116.54L622.61 1122.81L615.38 1122.81Z" fill="#13821a"/>
<path d="M612.11 1120.78L615.73 1127.05L608.5 1127.05Z" fill="#13821a"/>
<path d="M605.23 1126.79L608.85 1133.06L601.61 1133.06Z" fill="#13821a"/>
<path d="M643.4 1066.32H656M649.7 1066.32V1098.9M643.4 1098.9H656" fill="none" stroke="#0b0bc4" stroke-width="1.1" stroke-linejoin="miter"/>
<path d="M646.54 1062.89L650.16 1056.62L642.92 1056.62Z" fill="#0b0bc4"/>
<path d="M653.42 1061.12L657.04 1054.85L649.81 1054.85Z" fill="#0b0bc4"/>
<path d="M653.42 1071.01L657.04 1064.75L649.81 1064.75Z" fill="#0b0bc4"/>
<path d="M639.4 1090.1L643.02 1083.83L635.79 1083.83Z" fill="#0b0bc4"/>
<path d="M646.54 1087.27L650.16 1081.01L642.92 1081.01Z" fill="#0b0bc4"/>
<path d="M660.05 1086.56L663.67 1080.3L656.43 1080.3Z" fill="#0b0bc4"/>
<path d="M646.54 1094.69L650.16 1088.43L642.92 1088.43Z" fill="#0b0bc4"/>
<path d="M653.42 1102.47L657.04 1096.2L649.81 1096.2Z" fill="#0b0bc4"/>
<path d="M646.54 1104.94L650.16 1098.68L642.92 1098.68Z" fill="#0b0bc4"/>
<path d="M528.9 993.1V984.7H563.1V993.1" fill="none" stroke="#000" stroke-width="2.6" stroke-linejoin="miter"/>
<text transform="translate(546 982.65)" font-size="21.8" text-anchor="middle" font-weight="bold">*</text>
<path d="M567.1 993.1V984.7H607.7V993.1" fill="none" stroke="#000" stroke-width="2.6" stroke-linejoin="miter"/>
<text transform="translate(587.34 982.65)" font-size="21.8" text-anchor="middle" font-weight="bold" letter-spacing="1.09">**</text>
<path d="M607.7 1045.4V1037.2H649.2V1045.4" fill="none" stroke="#000" stroke-width="2.6" stroke-linejoin="miter"/>
<text transform="translate(628.64 1036.25)" font-size="21.8" text-anchor="middle" font-weight="bold" letter-spacing="1.09">**</text>
<text transform="translate(409.6 959.3) scale(0.95 1)" font-size="30.4" font-weight="bold">F</text>
<rect x="809.1" y="1067.58" width="24.6" height="85.12" fill="#fff" stroke="#000" stroke-width="2.6"/>
<rect x="850.7" y="1033.94" width="24.6" height="118.76" fill="#fff" stroke="#000" stroke-width="2.6"/>
<rect x="892.3" y="1114.21" width="24.6" height="38.49" fill="#fff" stroke="#000" stroke-width="2.6"/>
<rect x="934.4" y="1077.81" width="24.6" height="74.89" fill="#fff" stroke="#000" stroke-width="2.6"/>
<line x1="793.7" y1="971.19" x2="793.7" y2="1153.7" stroke="#000" stroke-width="2"/>
<line x1="792.7" y1="1152.7" x2="974.7" y2="1152.7" stroke="#000" stroke-width="2"/>
<line x1="786.1" y1="1152.7" x2="793.7" y2="1152.7" stroke="#000" stroke-width="2"/>
<text transform="translate(784.1 1157.4) scale(1 0.98)" font-size="13.2" text-anchor="end" font-weight="bold">0</text>
<line x1="786.1" y1="1092.53" x2="793.7" y2="1092.53" stroke="#000" stroke-width="2"/>
<text transform="translate(784.1 1097.23) scale(1 0.98)" font-size="13.2" text-anchor="end" font-weight="bold">100</text>
<line x1="786.1" y1="1032.36" x2="793.7" y2="1032.36" stroke="#000" stroke-width="2"/>
<text transform="translate(784.1 1037.06) scale(1 0.98)" font-size="13.2" text-anchor="end" font-weight="bold">200</text>
<line x1="786.1" y1="972.19" x2="793.7" y2="972.19" stroke="#000" stroke-width="2"/>
<text transform="translate(784.1 976.89) scale(1 0.98)" font-size="13.2" text-anchor="end" font-weight="bold">300</text>
<line x1="821.3" y1="1152.7" x2="821.3" y2="1159.7" stroke="#000" stroke-width="2"/>
<text transform="translate(826.3 1171.3) rotate(-45)" font-size="13.4" text-anchor="end" font-weight="bold">siCtrl</text>
<line x1="862.6" y1="1152.7" x2="862.6" y2="1159.7" stroke="#000" stroke-width="2"/>
<text transform="translate(867.6 1171.3) rotate(-45)" font-size="13.4" text-anchor="end" font-weight="bold">siCircRABL2B</text>
<line x1="904.6" y1="1152.7" x2="904.6" y2="1159.7" stroke="#000" stroke-width="2"/>
<text transform="translate(909.6 1171.3) rotate(-45)" font-size="13.4" text-anchor="end" font-weight="bold">+BECN1</text>
<line x1="946.2" y1="1152.7" x2="946.2" y2="1159.7" stroke="#000" stroke-width="2"/>
<text transform="translate(951.2 1171.3) rotate(-45)" font-size="13.4" text-anchor="end" font-weight="bold">+BECN1ΔCCD-myc</text>
<text transform="translate(754.6 1062.4) rotate(-90)" font-size="14.4" text-anchor="middle" font-weight="bold">Migrating cells per field</text>
<path d="M815 1051.31H827.6M821.3 1051.31V1080.5M815 1080.5H827.6" fill="none" stroke="#f80c10" stroke-width="1.1" stroke-linejoin="miter"/>
<circle cx="811.2" cy="1043.19" r="3.46" fill="#f80c10"/>
<circle cx="811.2" cy="1054.02" r="3.46" fill="#f80c10"/>
<circle cx="831.6" cy="1054.02" r="3.46" fill="#f80c10"/>
<circle cx="821.4" cy="1057.03" r="3.46" fill="#f80c10"/>
<circle cx="811.2" cy="1066.06" r="3.46" fill="#f80c10"/>
<circle cx="811.2" cy="1076.58" r="3.46" fill="#f80c10"/>
<circle cx="831.6" cy="1078.09" r="3.46" fill="#f80c10"/>
<circle cx="821.4" cy="1076.58" r="3.46" fill="#f80c10"/>
<circle cx="821.4" cy="1085.01" r="3.46" fill="#f80c10"/>
<path d="M856.8 1012.8H869.4M863.1 1012.8V1051.31M856.8 1051.31H869.4" fill="none" stroke="#c6c41e" stroke-width="1.1" stroke-linejoin="miter"/>
<rect x="859.65" y="995.62" width="6.7" height="6.7" fill="#c6c41e"/>
<rect x="859.65" y="1009.16" width="6.7" height="6.7" fill="#c6c41e"/>
<rect x="849.46" y="1020.59" width="6.7" height="6.7" fill="#c6c41e"/>
<rect x="869.85" y="1023" width="6.7" height="6.7" fill="#c6c41e"/>
<rect x="859.65" y="1024.5" width="6.7" height="6.7" fill="#c6c41e"/>
<rect x="859.65" y="1041.65" width="6.7" height="6.7" fill="#c6c41e"/>
<rect x="869.85" y="1040.14" width="6.7" height="6.7" fill="#c6c41e"/>
<rect x="849.46" y="1053.68" width="6.7" height="6.7" fill="#c6c41e"/>
<rect x="869.85" y="1050.67" width="6.7" height="6.7" fill="#c6c41e"/>
<path d="M898.3 1104.86H910.9M904.6 1104.86V1119.61M898.3 1119.61H910.9" fill="none" stroke="#13821a" stroke-width="1.1" stroke-linejoin="miter"/>
<path d="M901.29 1094.98L904.9 1101.25L897.67 1101.25Z" fill="#13821a"/>
<path d="M894.4 1104.61L898.02 1110.87L890.79 1110.87Z" fill="#13821a"/>
<path d="M908.42 1104.01L912.04 1110.27L904.81 1110.27Z" fill="#13821a"/>
<path d="M914.8 1104.61L918.41 1110.87L911.18 1110.87Z" fill="#13821a"/>
<path d="M901.29 1109.72L904.9 1115.99L897.67 1115.99Z" fill="#13821a"/>
<path d="M894.4 1119.95L898.02 1126.22L890.79 1126.22Z" fill="#13821a"/>
<path d="M901.29 1114.84L904.9 1121.1L897.67 1121.1Z" fill="#13821a"/>
<path d="M907.91 1119.95L911.53 1126.22L904.3 1126.22Z" fill="#13821a"/>
<path d="M914.8 1114.84L918.41 1121.1L911.18 1121.1Z" fill="#13821a"/>
<path d="M939.9 1060.94H952.5M946.2 1060.94V1091.03M939.9 1091.03H952.5" fill="none" stroke="#0b0bc4" stroke-width="1.1" stroke-linejoin="miter"/>
<path d="M946.7 1051.27L950.32 1045L943.08 1045Z" fill="#0b0bc4"/>
<path d="M936.5 1068.42L940.12 1062.15L932.89 1062.15Z" fill="#0b0bc4"/>
<path d="M946.7 1070.82L950.32 1064.56L943.08 1064.56Z" fill="#0b0bc4"/>
<path d="M956.9 1068.42L960.51 1062.15L953.28 1062.15Z" fill="#0b0bc4"/>
<path d="M946.7 1080.15L950.32 1073.88L943.08 1073.88Z" fill="#0b0bc4"/>
<path d="M936.5 1087.37L940.12 1081.11L932.89 1081.11Z" fill="#0b0bc4"/>
<path d="M936.5 1096.39L940.12 1090.13L932.89 1090.13Z" fill="#0b0bc4"/>
<path d="M946.7 1092.48L950.32 1086.22L943.08 1086.22Z" fill="#0b0bc4"/>
<path d="M956.9 1093.69L960.51 1087.42L953.28 1087.42Z" fill="#0b0bc4"/>
<path d="M822.3 982.6V973.7H859.5V982.6" fill="none" stroke="#000" stroke-width="1.7" stroke-linejoin="miter"/>
<text transform="translate(839.5 970.78)" font-size="15.91" text-anchor="middle" font-weight="bold" letter-spacing="0.8">**</text>
<path d="M863.1 982.6V973.7H898.2V982.6" fill="none" stroke="#000" stroke-width="1.7" stroke-linejoin="miter"/>
<text transform="translate(879 970.78)" font-size="15.91" text-anchor="middle" font-weight="bold" letter-spacing="0.8">**</text>
<path d="M905.1 1036.7V1027.7H944.9V1036.7" fill="none" stroke="#000" stroke-width="1.7" stroke-linejoin="miter"/>
<text transform="translate(923.4 1024.98)" font-size="15.91" text-anchor="middle" font-weight="bold" letter-spacing="0.8">**</text>
<text transform="translate(693.2 959.8) scale(0.95 1)" font-size="30.4" font-weight="bold">G</text>
</svg>
</body></html>
